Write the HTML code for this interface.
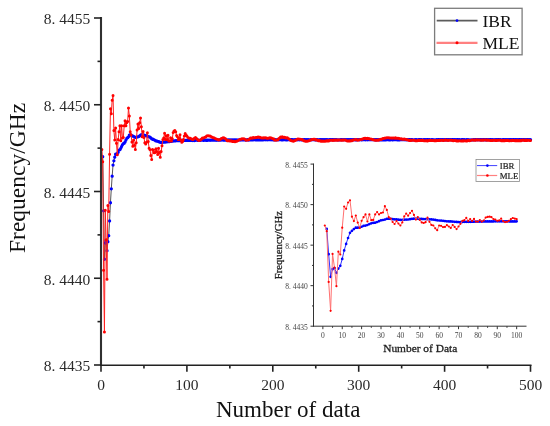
<!DOCTYPE html>
<html><head><meta charset="utf-8"><style>
html,body{margin:0;padding:0;background:#fff;width:550px;height:426px;overflow:hidden}
svg{display:block;filter:blur(0.3px)}
</style></head><body>
<svg width="550" height="426" viewBox="0 0 550 426">
<rect width="550" height="426" fill="#fff"/>
<polyline fill="none" stroke="#555" stroke-width="1" stroke-opacity="1" stroke-linejoin="round" points="102.72,156.71 103.58,210.87 104.44,259.25 105.3,242.98 106.15,240.41 107.01,250.69 107.87,241.7 108.73,235.7 109.59,220.93 110.45,202.74 111.31,188.82 112.17,176.19 113.03,165.06 113.89,160.78 114.74,157.14 115.6,154.15 116.46,154.04 117.32,153.5 118.18,152.15 119.04,150.11 119.9,149.64 120.76,148.37 121.62,146.46 122.47,144.67 123.33,143.71 124.19,143.35 125.05,141.98 125.91,140.07 126.77,138.41 127.63,137.67 128.49,136.8 129.35,135.07 130.21,134.72 131.06,135.24 131.92,135.91 132.78,136.17 133.64,136.44 134.5,136.97 135.36,137.39 136.22,137.39 137.08,137.03 137.94,136.81 138.8,136.56 139.66,135.92 140.51,135.21 141.37,134.75 142.23,134.73 143.09,134.91 143.95,135.19 144.81,135.49 145.67,135.71 146.53,135.82 147.39,136.14 148.25,136.57 149.1,136.8 149.96,137.16 150.82,137.99 151.68,138.83 152.54,139.23 153.4,139.39 154.26,139.86 155.12,140.47 155.98,140.97 156.84,141.16 157.69,141.28 158.55,141.6 159.41,142 160.27,142.32 161.13,142.44 161.99,142.4 162.85,142.3 163.71,142.16 164.57,142.06 165.43,142.02 166.28,141.97 167.14,141.85 168,141.7 168.86,141.56 169.72,141.49 170.58,141.42 171.44,141.3 172.3,141.15 173.16,140.99 174.01,140.87 174.87,140.8 175.73,140.75 176.59,140.69 177.45,140.63 178.31,140.57 179.17,140.52 180.03,140.48 180.89,140.45 181.75,140.45 182.61,140.45 183.46,140.45 184.32,140.45 185.18,140.45 186.04,140.45 186.9,140.45 187.76,140.29 188.62,140.27 189.48,140.36 190.34,140.4 191.19,140.37 192.05,140.26 192.91,140.48 193.77,140.29 194.63,140.5 195.49,140.33 196.35,140.22 197.21,140.28 198.07,140.22 198.93,140.42 199.78,140.34 200.64,140.27 201.5,140.17 202.36,140.2 203.22,140.25 204.08,140.29 204.94,140.19 205.8,140.3 206.66,140.25 207.52,140.33 208.38,140.14 209.23,140.07 210.09,140.25 210.95,140.16 211.81,140.2 212.67,140.16 213.53,140.07 214.39,140.14 215.25,140.09 216.11,140.23 216.97,140.13 217.82,140.13 218.68,140.21 219.54,139.99 220.4,140.1 221.26,140.03 222.12,139.92 222.98,140.11 223.84,139.94 224.7,140.13 225.56,139.99 226.41,140.12 227.27,140.11 228.13,139.98 228.99,140.12 229.85,139.9 230.71,139.92 231.57,139.99 232.43,139.93 233.29,139.97 234.15,140.01 235,140.05 235.86,140.02 236.72,139.85 237.58,140.06 238.44,140.06 239.3,139.94 240.16,140 241.02,139.82 241.88,139.84 242.73,139.8 243.59,139.83 244.45,139.88 245.31,140.03 246.17,139.8 247.03,139.85 247.89,139.77 248.75,140.03 249.61,139.86 250.47,139.74 251.32,139.78 252.18,139.74 253.04,139.97 253.9,139.72 254.76,139.67 255.62,139.95 256.48,139.85 257.34,139.75 258.2,139.86 259.06,139.85 259.91,139.68 260.77,139.9 261.63,139.84 262.49,139.81 263.35,139.74 264.21,139.59 265.07,139.66 265.93,139.78 266.79,139.7 267.65,139.86 268.5,139.67 269.36,139.62 270.22,139.61 271.08,139.82 271.94,139.69 272.8,139.79 273.66,139.75 274.52,139.78 275.38,139.69 276.24,139.79 277.1,139.79 277.95,139.67 278.81,139.83 279.67,139.6 280.53,139.6 281.39,139.79 282.25,139.8 283.11,139.75 283.97,139.71 284.83,139.55 285.69,139.74 286.54,139.83 287.4,139.81 288.26,139.61 289.12,139.64 289.98,139.73 290.84,139.68 291.7,139.82 292.56,139.69 293.42,139.82 294.27,139.83 295.13,139.71 295.99,139.56 296.85,139.6 297.71,139.79 298.57,139.69 299.43,139.72 300.29,139.71 301.15,139.79 302.01,139.72 302.87,139.63 303.72,139.7 304.58,139.78 305.44,139.68 306.3,139.7 307.16,139.76 308.02,139.71 308.88,139.83 309.74,139.81 310.6,139.63 311.45,139.83 312.31,139.59 313.17,139.68 314.03,139.62 314.89,139.75 315.75,139.82 316.61,139.76 317.47,139.59 318.33,139.84 319.19,139.84 320.04,139.7 320.9,139.8 321.76,139.68 322.62,139.65 323.48,139.65 324.34,139.56 325.2,139.68 326.06,139.65 326.92,139.7 327.78,139.85 328.63,139.84 329.49,139.63 330.35,139.78 331.21,139.59 332.07,139.82 332.93,139.63 333.79,139.83 334.65,139.76 335.51,139.57 336.37,139.68 337.23,139.83 338.08,139.79 338.94,139.81 339.8,139.81 340.66,139.65 341.52,139.83 342.38,139.59 343.24,139.62 344.1,139.6 344.96,139.61 345.81,139.64 346.67,139.64 347.53,139.6 348.39,139.56 349.25,139.55 350.11,139.72 350.97,139.69 351.83,139.58 352.69,139.68 353.55,139.8 354.4,139.7 355.26,139.84 356.12,139.8 356.98,139.74 357.84,139.65 358.7,139.59 359.56,139.77 360.42,139.6 361.28,139.8 362.14,139.75 363,139.62 363.85,139.69 364.71,139.68 365.57,139.84 366.43,139.72 367.29,139.84 368.15,139.66 369.01,139.67 369.87,139.7 370.73,139.71 371.58,139.63 372.44,139.68 373.3,139.56 374.16,139.63 375.02,139.72 375.88,139.76 376.74,139.82 377.6,139.66 378.46,139.61 379.32,139.76 380.18,139.82 381.03,139.75 381.89,139.81 382.75,139.73 383.61,139.82 384.47,139.82 385.33,139.84 386.19,139.78 387.05,139.58 387.91,139.68 388.76,139.83 389.62,139.77 390.48,139.78 391.34,139.58 392.2,139.81 393.06,139.75 393.92,139.61 394.78,139.66 395.64,139.67 396.5,139.65 397.36,139.88 398.21,139.71 399.07,139.8 399.93,139.78 400.79,139.62 401.65,139.68 402.51,139.69 403.37,139.61 404.23,139.69 405.09,139.81 405.94,139.7 406.8,139.75 407.66,139.65 408.52,139.67 409.38,139.89 410.24,139.75 411.1,139.91 411.96,139.7 412.82,139.9 413.68,139.8 414.53,139.78 415.39,139.66 416.25,139.78 417.11,139.84 417.97,139.9 418.83,139.64 419.69,139.78 420.55,139.72 421.41,139.74 422.27,139.89 423.12,139.86 423.98,139.67 424.84,139.85 425.7,139.73 426.56,139.76 427.42,139.82 428.28,139.77 429.14,139.66 430,139.89 430.86,139.92 431.71,139.72 432.57,139.7 433.43,139.93 434.29,139.89 435.15,139.92 436.01,139.81 436.87,139.66 437.73,139.78 438.59,139.84 439.45,139.66 440.31,139.69 441.16,139.75 442.02,139.87 442.88,139.73 443.74,139.74 444.6,139.77 445.46,139.7 446.32,139.92 447.18,139.72 448.04,139.95 448.89,139.69 449.75,139.68 450.61,139.68 451.47,139.73 452.33,139.91 453.19,139.77 454.05,139.8 454.91,139.75 455.77,139.73 456.63,139.68 457.49,139.83 458.34,139.71 459.2,139.72 460.06,139.78 460.92,139.9 461.78,139.65 462.64,139.85 463.5,139.78 464.36,139.64 465.22,139.91 466.07,139.89 466.93,139.71 467.79,139.68 468.65,139.84 469.51,139.85 470.37,139.86 471.23,139.79 472.09,139.86 472.95,139.9 473.81,139.72 474.67,139.7 475.52,139.83 476.38,139.64 477.24,139.79 478.1,139.68 478.96,139.62 479.82,139.75 480.68,139.81 481.54,139.75 482.4,139.68 483.25,139.82 484.11,139.61 484.97,139.81 485.83,139.68 486.69,139.88 487.55,139.61 488.41,139.72 489.27,139.66 490.13,139.82 490.99,139.66 491.84,139.69 492.7,139.66 493.56,139.82 494.42,139.87 495.28,139.64 496.14,139.71 497,139.87 497.86,139.7 498.72,139.87 499.58,139.59 500.44,139.7 501.29,139.84 502.15,139.87 503.01,139.67 503.87,139.85 504.73,139.58 505.59,139.68 506.45,139.67 507.31,139.57 508.17,139.67 509.02,139.6 509.88,139.63 510.74,139.81 511.6,139.69 512.46,139.7 513.32,139.84 514.18,139.67 515.04,139.57 515.9,139.8 516.76,139.57 517.62,139.57 518.47,139.63 519.33,139.82 520.19,139.64 521.05,139.74 521.91,139.77 522.77,139.63 523.63,139.78 524.49,139.74 525.35,139.56 526.2,139.69 527.06,139.84 527.92,139.63 528.78,139.7 529.64,139.6 530.5,139.77"/>
<path fill="#0000ff" d="M101.07 156.71a1.65 1.65 0 1 0 3.3 0a1.65 1.65 0 1 0 -3.3 0M101.93 210.87a1.65 1.65 0 1 0 3.3 0a1.65 1.65 0 1 0 -3.3 0M102.79 259.25a1.65 1.65 0 1 0 3.3 0a1.65 1.65 0 1 0 -3.3 0M103.64 242.98a1.65 1.65 0 1 0 3.3 0a1.65 1.65 0 1 0 -3.3 0M104.5 240.41a1.65 1.65 0 1 0 3.3 0a1.65 1.65 0 1 0 -3.3 0M105.36 250.69a1.65 1.65 0 1 0 3.3 0a1.65 1.65 0 1 0 -3.3 0M106.22 241.7a1.65 1.65 0 1 0 3.3 0a1.65 1.65 0 1 0 -3.3 0M107.08 235.7a1.65 1.65 0 1 0 3.3 0a1.65 1.65 0 1 0 -3.3 0M107.94 220.93a1.65 1.65 0 1 0 3.3 0a1.65 1.65 0 1 0 -3.3 0M108.8 202.74a1.65 1.65 0 1 0 3.3 0a1.65 1.65 0 1 0 -3.3 0M109.66 188.82a1.65 1.65 0 1 0 3.3 0a1.65 1.65 0 1 0 -3.3 0M110.52 176.19a1.65 1.65 0 1 0 3.3 0a1.65 1.65 0 1 0 -3.3 0M111.38 165.06a1.65 1.65 0 1 0 3.3 0a1.65 1.65 0 1 0 -3.3 0M112.23 160.78a1.65 1.65 0 1 0 3.3 0a1.65 1.65 0 1 0 -3.3 0M113.09 157.14a1.65 1.65 0 1 0 3.3 0a1.65 1.65 0 1 0 -3.3 0M113.95 154.15a1.65 1.65 0 1 0 3.3 0a1.65 1.65 0 1 0 -3.3 0M114.81 154.04a1.65 1.65 0 1 0 3.3 0a1.65 1.65 0 1 0 -3.3 0M115.67 153.5a1.65 1.65 0 1 0 3.3 0a1.65 1.65 0 1 0 -3.3 0M116.53 152.15a1.65 1.65 0 1 0 3.3 0a1.65 1.65 0 1 0 -3.3 0M117.39 150.11a1.65 1.65 0 1 0 3.3 0a1.65 1.65 0 1 0 -3.3 0M118.25 149.64a1.65 1.65 0 1 0 3.3 0a1.65 1.65 0 1 0 -3.3 0M119.11 148.37a1.65 1.65 0 1 0 3.3 0a1.65 1.65 0 1 0 -3.3 0M119.97 146.46a1.65 1.65 0 1 0 3.3 0a1.65 1.65 0 1 0 -3.3 0M120.82 144.67a1.65 1.65 0 1 0 3.3 0a1.65 1.65 0 1 0 -3.3 0M121.68 143.71a1.65 1.65 0 1 0 3.3 0a1.65 1.65 0 1 0 -3.3 0M122.54 143.35a1.65 1.65 0 1 0 3.3 0a1.65 1.65 0 1 0 -3.3 0M123.4 141.98a1.65 1.65 0 1 0 3.3 0a1.65 1.65 0 1 0 -3.3 0M124.26 140.07a1.65 1.65 0 1 0 3.3 0a1.65 1.65 0 1 0 -3.3 0M125.12 138.41a1.65 1.65 0 1 0 3.3 0a1.65 1.65 0 1 0 -3.3 0M125.98 137.67a1.65 1.65 0 1 0 3.3 0a1.65 1.65 0 1 0 -3.3 0M126.84 136.8a1.65 1.65 0 1 0 3.3 0a1.65 1.65 0 1 0 -3.3 0M127.7 135.07a1.65 1.65 0 1 0 3.3 0a1.65 1.65 0 1 0 -3.3 0M128.56 134.72a1.65 1.65 0 1 0 3.3 0a1.65 1.65 0 1 0 -3.3 0M129.41 135.24a1.65 1.65 0 1 0 3.3 0a1.65 1.65 0 1 0 -3.3 0M130.27 135.91a1.65 1.65 0 1 0 3.3 0a1.65 1.65 0 1 0 -3.3 0M131.13 136.17a1.65 1.65 0 1 0 3.3 0a1.65 1.65 0 1 0 -3.3 0M131.99 136.44a1.65 1.65 0 1 0 3.3 0a1.65 1.65 0 1 0 -3.3 0M132.85 136.97a1.65 1.65 0 1 0 3.3 0a1.65 1.65 0 1 0 -3.3 0M133.71 137.39a1.65 1.65 0 1 0 3.3 0a1.65 1.65 0 1 0 -3.3 0M134.57 137.39a1.65 1.65 0 1 0 3.3 0a1.65 1.65 0 1 0 -3.3 0M135.43 137.03a1.65 1.65 0 1 0 3.3 0a1.65 1.65 0 1 0 -3.3 0M136.29 136.81a1.65 1.65 0 1 0 3.3 0a1.65 1.65 0 1 0 -3.3 0M137.15 136.56a1.65 1.65 0 1 0 3.3 0a1.65 1.65 0 1 0 -3.3 0M138 135.92a1.65 1.65 0 1 0 3.3 0a1.65 1.65 0 1 0 -3.3 0M138.86 135.21a1.65 1.65 0 1 0 3.3 0a1.65 1.65 0 1 0 -3.3 0M139.72 134.75a1.65 1.65 0 1 0 3.3 0a1.65 1.65 0 1 0 -3.3 0M140.58 134.73a1.65 1.65 0 1 0 3.3 0a1.65 1.65 0 1 0 -3.3 0M141.44 134.91a1.65 1.65 0 1 0 3.3 0a1.65 1.65 0 1 0 -3.3 0M142.3 135.19a1.65 1.65 0 1 0 3.3 0a1.65 1.65 0 1 0 -3.3 0M143.16 135.49a1.65 1.65 0 1 0 3.3 0a1.65 1.65 0 1 0 -3.3 0M144.02 135.71a1.65 1.65 0 1 0 3.3 0a1.65 1.65 0 1 0 -3.3 0M144.88 135.82a1.65 1.65 0 1 0 3.3 0a1.65 1.65 0 1 0 -3.3 0M145.74 136.14a1.65 1.65 0 1 0 3.3 0a1.65 1.65 0 1 0 -3.3 0M146.59 136.57a1.65 1.65 0 1 0 3.3 0a1.65 1.65 0 1 0 -3.3 0M147.45 136.8a1.65 1.65 0 1 0 3.3 0a1.65 1.65 0 1 0 -3.3 0M148.31 137.16a1.65 1.65 0 1 0 3.3 0a1.65 1.65 0 1 0 -3.3 0M149.17 137.99a1.65 1.65 0 1 0 3.3 0a1.65 1.65 0 1 0 -3.3 0M150.03 138.83a1.65 1.65 0 1 0 3.3 0a1.65 1.65 0 1 0 -3.3 0M150.89 139.23a1.65 1.65 0 1 0 3.3 0a1.65 1.65 0 1 0 -3.3 0M151.75 139.39a1.65 1.65 0 1 0 3.3 0a1.65 1.65 0 1 0 -3.3 0M152.61 139.86a1.65 1.65 0 1 0 3.3 0a1.65 1.65 0 1 0 -3.3 0M153.47 140.47a1.65 1.65 0 1 0 3.3 0a1.65 1.65 0 1 0 -3.3 0M154.33 140.97a1.65 1.65 0 1 0 3.3 0a1.65 1.65 0 1 0 -3.3 0M155.19 141.16a1.65 1.65 0 1 0 3.3 0a1.65 1.65 0 1 0 -3.3 0M156.04 141.28a1.65 1.65 0 1 0 3.3 0a1.65 1.65 0 1 0 -3.3 0M156.9 141.6a1.65 1.65 0 1 0 3.3 0a1.65 1.65 0 1 0 -3.3 0M157.76 142a1.65 1.65 0 1 0 3.3 0a1.65 1.65 0 1 0 -3.3 0M158.62 142.32a1.65 1.65 0 1 0 3.3 0a1.65 1.65 0 1 0 -3.3 0M159.48 142.44a1.65 1.65 0 1 0 3.3 0a1.65 1.65 0 1 0 -3.3 0M160.34 142.4a1.65 1.65 0 1 0 3.3 0a1.65 1.65 0 1 0 -3.3 0M161.2 142.3a1.65 1.65 0 1 0 3.3 0a1.65 1.65 0 1 0 -3.3 0M162.06 142.16a1.65 1.65 0 1 0 3.3 0a1.65 1.65 0 1 0 -3.3 0M162.92 142.06a1.65 1.65 0 1 0 3.3 0a1.65 1.65 0 1 0 -3.3 0M163.78 142.02a1.65 1.65 0 1 0 3.3 0a1.65 1.65 0 1 0 -3.3 0M164.63 141.97a1.65 1.65 0 1 0 3.3 0a1.65 1.65 0 1 0 -3.3 0M165.49 141.85a1.65 1.65 0 1 0 3.3 0a1.65 1.65 0 1 0 -3.3 0M166.35 141.7a1.65 1.65 0 1 0 3.3 0a1.65 1.65 0 1 0 -3.3 0M167.21 141.56a1.65 1.65 0 1 0 3.3 0a1.65 1.65 0 1 0 -3.3 0M168.07 141.49a1.65 1.65 0 1 0 3.3 0a1.65 1.65 0 1 0 -3.3 0M168.93 141.42a1.65 1.65 0 1 0 3.3 0a1.65 1.65 0 1 0 -3.3 0M169.79 141.3a1.65 1.65 0 1 0 3.3 0a1.65 1.65 0 1 0 -3.3 0M170.65 141.15a1.65 1.65 0 1 0 3.3 0a1.65 1.65 0 1 0 -3.3 0M171.51 140.99a1.65 1.65 0 1 0 3.3 0a1.65 1.65 0 1 0 -3.3 0M172.36 140.87a1.65 1.65 0 1 0 3.3 0a1.65 1.65 0 1 0 -3.3 0M173.22 140.8a1.65 1.65 0 1 0 3.3 0a1.65 1.65 0 1 0 -3.3 0M174.08 140.75a1.65 1.65 0 1 0 3.3 0a1.65 1.65 0 1 0 -3.3 0M174.94 140.69a1.65 1.65 0 1 0 3.3 0a1.65 1.65 0 1 0 -3.3 0M175.8 140.63a1.65 1.65 0 1 0 3.3 0a1.65 1.65 0 1 0 -3.3 0M176.66 140.57a1.65 1.65 0 1 0 3.3 0a1.65 1.65 0 1 0 -3.3 0M177.52 140.52a1.65 1.65 0 1 0 3.3 0a1.65 1.65 0 1 0 -3.3 0M178.38 140.48a1.65 1.65 0 1 0 3.3 0a1.65 1.65 0 1 0 -3.3 0M179.24 140.45a1.65 1.65 0 1 0 3.3 0a1.65 1.65 0 1 0 -3.3 0M180.1 140.45a1.65 1.65 0 1 0 3.3 0a1.65 1.65 0 1 0 -3.3 0M180.96 140.45a1.65 1.65 0 1 0 3.3 0a1.65 1.65 0 1 0 -3.3 0M181.81 140.45a1.65 1.65 0 1 0 3.3 0a1.65 1.65 0 1 0 -3.3 0M182.67 140.45a1.65 1.65 0 1 0 3.3 0a1.65 1.65 0 1 0 -3.3 0M183.53 140.45a1.65 1.65 0 1 0 3.3 0a1.65 1.65 0 1 0 -3.3 0M184.39 140.45a1.65 1.65 0 1 0 3.3 0a1.65 1.65 0 1 0 -3.3 0M185.25 140.45a1.65 1.65 0 1 0 3.3 0a1.65 1.65 0 1 0 -3.3 0M186.11 140.29a1.65 1.65 0 1 0 3.3 0a1.65 1.65 0 1 0 -3.3 0M186.97 140.27a1.65 1.65 0 1 0 3.3 0a1.65 1.65 0 1 0 -3.3 0M187.83 140.36a1.65 1.65 0 1 0 3.3 0a1.65 1.65 0 1 0 -3.3 0M188.69 140.4a1.65 1.65 0 1 0 3.3 0a1.65 1.65 0 1 0 -3.3 0M189.54 140.37a1.65 1.65 0 1 0 3.3 0a1.65 1.65 0 1 0 -3.3 0M190.4 140.26a1.65 1.65 0 1 0 3.3 0a1.65 1.65 0 1 0 -3.3 0M191.26 140.48a1.65 1.65 0 1 0 3.3 0a1.65 1.65 0 1 0 -3.3 0M192.12 140.29a1.65 1.65 0 1 0 3.3 0a1.65 1.65 0 1 0 -3.3 0M192.98 140.5a1.65 1.65 0 1 0 3.3 0a1.65 1.65 0 1 0 -3.3 0M193.84 140.33a1.65 1.65 0 1 0 3.3 0a1.65 1.65 0 1 0 -3.3 0M194.7 140.22a1.65 1.65 0 1 0 3.3 0a1.65 1.65 0 1 0 -3.3 0M195.56 140.28a1.65 1.65 0 1 0 3.3 0a1.65 1.65 0 1 0 -3.3 0M196.42 140.22a1.65 1.65 0 1 0 3.3 0a1.65 1.65 0 1 0 -3.3 0M197.28 140.42a1.65 1.65 0 1 0 3.3 0a1.65 1.65 0 1 0 -3.3 0M198.13 140.34a1.65 1.65 0 1 0 3.3 0a1.65 1.65 0 1 0 -3.3 0M198.99 140.27a1.65 1.65 0 1 0 3.3 0a1.65 1.65 0 1 0 -3.3 0M199.85 140.17a1.65 1.65 0 1 0 3.3 0a1.65 1.65 0 1 0 -3.3 0M200.71 140.2a1.65 1.65 0 1 0 3.3 0a1.65 1.65 0 1 0 -3.3 0M201.57 140.25a1.65 1.65 0 1 0 3.3 0a1.65 1.65 0 1 0 -3.3 0M202.43 140.29a1.65 1.65 0 1 0 3.3 0a1.65 1.65 0 1 0 -3.3 0M203.29 140.19a1.65 1.65 0 1 0 3.3 0a1.65 1.65 0 1 0 -3.3 0M204.15 140.3a1.65 1.65 0 1 0 3.3 0a1.65 1.65 0 1 0 -3.3 0M205.01 140.25a1.65 1.65 0 1 0 3.3 0a1.65 1.65 0 1 0 -3.3 0M205.87 140.33a1.65 1.65 0 1 0 3.3 0a1.65 1.65 0 1 0 -3.3 0M206.72 140.14a1.65 1.65 0 1 0 3.3 0a1.65 1.65 0 1 0 -3.3 0M207.58 140.07a1.65 1.65 0 1 0 3.3 0a1.65 1.65 0 1 0 -3.3 0M208.44 140.25a1.65 1.65 0 1 0 3.3 0a1.65 1.65 0 1 0 -3.3 0M209.3 140.16a1.65 1.65 0 1 0 3.3 0a1.65 1.65 0 1 0 -3.3 0M210.16 140.2a1.65 1.65 0 1 0 3.3 0a1.65 1.65 0 1 0 -3.3 0M211.02 140.16a1.65 1.65 0 1 0 3.3 0a1.65 1.65 0 1 0 -3.3 0M211.88 140.07a1.65 1.65 0 1 0 3.3 0a1.65 1.65 0 1 0 -3.3 0M212.74 140.14a1.65 1.65 0 1 0 3.3 0a1.65 1.65 0 1 0 -3.3 0M213.6 140.09a1.65 1.65 0 1 0 3.3 0a1.65 1.65 0 1 0 -3.3 0M214.46 140.23a1.65 1.65 0 1 0 3.3 0a1.65 1.65 0 1 0 -3.3 0M215.31 140.13a1.65 1.65 0 1 0 3.3 0a1.65 1.65 0 1 0 -3.3 0M216.17 140.13a1.65 1.65 0 1 0 3.3 0a1.65 1.65 0 1 0 -3.3 0M217.03 140.21a1.65 1.65 0 1 0 3.3 0a1.65 1.65 0 1 0 -3.3 0M217.89 139.99a1.65 1.65 0 1 0 3.3 0a1.65 1.65 0 1 0 -3.3 0M218.75 140.1a1.65 1.65 0 1 0 3.3 0a1.65 1.65 0 1 0 -3.3 0M219.61 140.03a1.65 1.65 0 1 0 3.3 0a1.65 1.65 0 1 0 -3.3 0M220.47 139.92a1.65 1.65 0 1 0 3.3 0a1.65 1.65 0 1 0 -3.3 0M221.33 140.11a1.65 1.65 0 1 0 3.3 0a1.65 1.65 0 1 0 -3.3 0M222.19 139.94a1.65 1.65 0 1 0 3.3 0a1.65 1.65 0 1 0 -3.3 0M223.05 140.13a1.65 1.65 0 1 0 3.3 0a1.65 1.65 0 1 0 -3.3 0M223.91 139.99a1.65 1.65 0 1 0 3.3 0a1.65 1.65 0 1 0 -3.3 0M224.76 140.12a1.65 1.65 0 1 0 3.3 0a1.65 1.65 0 1 0 -3.3 0M225.62 140.11a1.65 1.65 0 1 0 3.3 0a1.65 1.65 0 1 0 -3.3 0M226.48 139.98a1.65 1.65 0 1 0 3.3 0a1.65 1.65 0 1 0 -3.3 0M227.34 140.12a1.65 1.65 0 1 0 3.3 0a1.65 1.65 0 1 0 -3.3 0M228.2 139.9a1.65 1.65 0 1 0 3.3 0a1.65 1.65 0 1 0 -3.3 0M229.06 139.92a1.65 1.65 0 1 0 3.3 0a1.65 1.65 0 1 0 -3.3 0M229.92 139.99a1.65 1.65 0 1 0 3.3 0a1.65 1.65 0 1 0 -3.3 0M230.78 139.93a1.65 1.65 0 1 0 3.3 0a1.65 1.65 0 1 0 -3.3 0M231.64 139.97a1.65 1.65 0 1 0 3.3 0a1.65 1.65 0 1 0 -3.3 0M232.5 140.01a1.65 1.65 0 1 0 3.3 0a1.65 1.65 0 1 0 -3.3 0M233.35 140.05a1.65 1.65 0 1 0 3.3 0a1.65 1.65 0 1 0 -3.3 0M234.21 140.02a1.65 1.65 0 1 0 3.3 0a1.65 1.65 0 1 0 -3.3 0M235.07 139.85a1.65 1.65 0 1 0 3.3 0a1.65 1.65 0 1 0 -3.3 0M235.93 140.06a1.65 1.65 0 1 0 3.3 0a1.65 1.65 0 1 0 -3.3 0M236.79 140.06a1.65 1.65 0 1 0 3.3 0a1.65 1.65 0 1 0 -3.3 0M237.65 139.94a1.65 1.65 0 1 0 3.3 0a1.65 1.65 0 1 0 -3.3 0M238.51 140a1.65 1.65 0 1 0 3.3 0a1.65 1.65 0 1 0 -3.3 0M239.37 139.82a1.65 1.65 0 1 0 3.3 0a1.65 1.65 0 1 0 -3.3 0M240.23 139.84a1.65 1.65 0 1 0 3.3 0a1.65 1.65 0 1 0 -3.3 0M241.08 139.8a1.65 1.65 0 1 0 3.3 0a1.65 1.65 0 1 0 -3.3 0M241.94 139.83a1.65 1.65 0 1 0 3.3 0a1.65 1.65 0 1 0 -3.3 0M242.8 139.88a1.65 1.65 0 1 0 3.3 0a1.65 1.65 0 1 0 -3.3 0M243.66 140.03a1.65 1.65 0 1 0 3.3 0a1.65 1.65 0 1 0 -3.3 0M244.52 139.8a1.65 1.65 0 1 0 3.3 0a1.65 1.65 0 1 0 -3.3 0M245.38 139.85a1.65 1.65 0 1 0 3.3 0a1.65 1.65 0 1 0 -3.3 0M246.24 139.77a1.65 1.65 0 1 0 3.3 0a1.65 1.65 0 1 0 -3.3 0M247.1 140.03a1.65 1.65 0 1 0 3.3 0a1.65 1.65 0 1 0 -3.3 0M247.96 139.86a1.65 1.65 0 1 0 3.3 0a1.65 1.65 0 1 0 -3.3 0M248.82 139.74a1.65 1.65 0 1 0 3.3 0a1.65 1.65 0 1 0 -3.3 0M249.67 139.78a1.65 1.65 0 1 0 3.3 0a1.65 1.65 0 1 0 -3.3 0M250.53 139.74a1.65 1.65 0 1 0 3.3 0a1.65 1.65 0 1 0 -3.3 0M251.39 139.97a1.65 1.65 0 1 0 3.3 0a1.65 1.65 0 1 0 -3.3 0M252.25 139.72a1.65 1.65 0 1 0 3.3 0a1.65 1.65 0 1 0 -3.3 0M253.11 139.67a1.65 1.65 0 1 0 3.3 0a1.65 1.65 0 1 0 -3.3 0M253.97 139.95a1.65 1.65 0 1 0 3.3 0a1.65 1.65 0 1 0 -3.3 0M254.83 139.85a1.65 1.65 0 1 0 3.3 0a1.65 1.65 0 1 0 -3.3 0M255.69 139.75a1.65 1.65 0 1 0 3.3 0a1.65 1.65 0 1 0 -3.3 0M256.55 139.86a1.65 1.65 0 1 0 3.3 0a1.65 1.65 0 1 0 -3.3 0M257.41 139.85a1.65 1.65 0 1 0 3.3 0a1.65 1.65 0 1 0 -3.3 0M258.26 139.68a1.65 1.65 0 1 0 3.3 0a1.65 1.65 0 1 0 -3.3 0M259.12 139.9a1.65 1.65 0 1 0 3.3 0a1.65 1.65 0 1 0 -3.3 0M259.98 139.84a1.65 1.65 0 1 0 3.3 0a1.65 1.65 0 1 0 -3.3 0M260.84 139.81a1.65 1.65 0 1 0 3.3 0a1.65 1.65 0 1 0 -3.3 0M261.7 139.74a1.65 1.65 0 1 0 3.3 0a1.65 1.65 0 1 0 -3.3 0M262.56 139.59a1.65 1.65 0 1 0 3.3 0a1.65 1.65 0 1 0 -3.3 0M263.42 139.66a1.65 1.65 0 1 0 3.3 0a1.65 1.65 0 1 0 -3.3 0M264.28 139.78a1.65 1.65 0 1 0 3.3 0a1.65 1.65 0 1 0 -3.3 0M265.14 139.7a1.65 1.65 0 1 0 3.3 0a1.65 1.65 0 1 0 -3.3 0M266 139.86a1.65 1.65 0 1 0 3.3 0a1.65 1.65 0 1 0 -3.3 0M266.86 139.67a1.65 1.65 0 1 0 3.3 0a1.65 1.65 0 1 0 -3.3 0M267.71 139.62a1.65 1.65 0 1 0 3.3 0a1.65 1.65 0 1 0 -3.3 0M268.57 139.61a1.65 1.65 0 1 0 3.3 0a1.65 1.65 0 1 0 -3.3 0M269.43 139.82a1.65 1.65 0 1 0 3.3 0a1.65 1.65 0 1 0 -3.3 0M270.29 139.69a1.65 1.65 0 1 0 3.3 0a1.65 1.65 0 1 0 -3.3 0M271.15 139.79a1.65 1.65 0 1 0 3.3 0a1.65 1.65 0 1 0 -3.3 0M272.01 139.75a1.65 1.65 0 1 0 3.3 0a1.65 1.65 0 1 0 -3.3 0M272.87 139.78a1.65 1.65 0 1 0 3.3 0a1.65 1.65 0 1 0 -3.3 0M273.73 139.69a1.65 1.65 0 1 0 3.3 0a1.65 1.65 0 1 0 -3.3 0M274.59 139.79a1.65 1.65 0 1 0 3.3 0a1.65 1.65 0 1 0 -3.3 0M275.45 139.79a1.65 1.65 0 1 0 3.3 0a1.65 1.65 0 1 0 -3.3 0M276.3 139.67a1.65 1.65 0 1 0 3.3 0a1.65 1.65 0 1 0 -3.3 0M277.16 139.83a1.65 1.65 0 1 0 3.3 0a1.65 1.65 0 1 0 -3.3 0M278.02 139.6a1.65 1.65 0 1 0 3.3 0a1.65 1.65 0 1 0 -3.3 0M278.88 139.6a1.65 1.65 0 1 0 3.3 0a1.65 1.65 0 1 0 -3.3 0M279.74 139.79a1.65 1.65 0 1 0 3.3 0a1.65 1.65 0 1 0 -3.3 0M280.6 139.8a1.65 1.65 0 1 0 3.3 0a1.65 1.65 0 1 0 -3.3 0M281.46 139.75a1.65 1.65 0 1 0 3.3 0a1.65 1.65 0 1 0 -3.3 0M282.32 139.71a1.65 1.65 0 1 0 3.3 0a1.65 1.65 0 1 0 -3.3 0M283.18 139.55a1.65 1.65 0 1 0 3.3 0a1.65 1.65 0 1 0 -3.3 0M284.04 139.74a1.65 1.65 0 1 0 3.3 0a1.65 1.65 0 1 0 -3.3 0M284.89 139.83a1.65 1.65 0 1 0 3.3 0a1.65 1.65 0 1 0 -3.3 0M285.75 139.81a1.65 1.65 0 1 0 3.3 0a1.65 1.65 0 1 0 -3.3 0M286.61 139.61a1.65 1.65 0 1 0 3.3 0a1.65 1.65 0 1 0 -3.3 0M287.47 139.64a1.65 1.65 0 1 0 3.3 0a1.65 1.65 0 1 0 -3.3 0M288.33 139.73a1.65 1.65 0 1 0 3.3 0a1.65 1.65 0 1 0 -3.3 0M289.19 139.68a1.65 1.65 0 1 0 3.3 0a1.65 1.65 0 1 0 -3.3 0M290.05 139.82a1.65 1.65 0 1 0 3.3 0a1.65 1.65 0 1 0 -3.3 0M290.91 139.69a1.65 1.65 0 1 0 3.3 0a1.65 1.65 0 1 0 -3.3 0M291.77 139.82a1.65 1.65 0 1 0 3.3 0a1.65 1.65 0 1 0 -3.3 0M292.62 139.83a1.65 1.65 0 1 0 3.3 0a1.65 1.65 0 1 0 -3.3 0M293.48 139.71a1.65 1.65 0 1 0 3.3 0a1.65 1.65 0 1 0 -3.3 0M294.34 139.56a1.65 1.65 0 1 0 3.3 0a1.65 1.65 0 1 0 -3.3 0M295.2 139.6a1.65 1.65 0 1 0 3.3 0a1.65 1.65 0 1 0 -3.3 0M296.06 139.79a1.65 1.65 0 1 0 3.3 0a1.65 1.65 0 1 0 -3.3 0M296.92 139.69a1.65 1.65 0 1 0 3.3 0a1.65 1.65 0 1 0 -3.3 0M297.78 139.72a1.65 1.65 0 1 0 3.3 0a1.65 1.65 0 1 0 -3.3 0M298.64 139.71a1.65 1.65 0 1 0 3.3 0a1.65 1.65 0 1 0 -3.3 0M299.5 139.79a1.65 1.65 0 1 0 3.3 0a1.65 1.65 0 1 0 -3.3 0M300.36 139.72a1.65 1.65 0 1 0 3.3 0a1.65 1.65 0 1 0 -3.3 0M301.22 139.63a1.65 1.65 0 1 0 3.3 0a1.65 1.65 0 1 0 -3.3 0M302.07 139.7a1.65 1.65 0 1 0 3.3 0a1.65 1.65 0 1 0 -3.3 0M302.93 139.78a1.65 1.65 0 1 0 3.3 0a1.65 1.65 0 1 0 -3.3 0M303.79 139.68a1.65 1.65 0 1 0 3.3 0a1.65 1.65 0 1 0 -3.3 0M304.65 139.7a1.65 1.65 0 1 0 3.3 0a1.65 1.65 0 1 0 -3.3 0M305.51 139.76a1.65 1.65 0 1 0 3.3 0a1.65 1.65 0 1 0 -3.3 0M306.37 139.71a1.65 1.65 0 1 0 3.3 0a1.65 1.65 0 1 0 -3.3 0M307.23 139.83a1.65 1.65 0 1 0 3.3 0a1.65 1.65 0 1 0 -3.3 0M308.09 139.81a1.65 1.65 0 1 0 3.3 0a1.65 1.65 0 1 0 -3.3 0M308.95 139.63a1.65 1.65 0 1 0 3.3 0a1.65 1.65 0 1 0 -3.3 0M309.81 139.83a1.65 1.65 0 1 0 3.3 0a1.65 1.65 0 1 0 -3.3 0M310.66 139.59a1.65 1.65 0 1 0 3.3 0a1.65 1.65 0 1 0 -3.3 0M311.52 139.68a1.65 1.65 0 1 0 3.3 0a1.65 1.65 0 1 0 -3.3 0M312.38 139.62a1.65 1.65 0 1 0 3.3 0a1.65 1.65 0 1 0 -3.3 0M313.24 139.75a1.65 1.65 0 1 0 3.3 0a1.65 1.65 0 1 0 -3.3 0M314.1 139.82a1.65 1.65 0 1 0 3.3 0a1.65 1.65 0 1 0 -3.3 0M314.96 139.76a1.65 1.65 0 1 0 3.3 0a1.65 1.65 0 1 0 -3.3 0M315.82 139.59a1.65 1.65 0 1 0 3.3 0a1.65 1.65 0 1 0 -3.3 0M316.68 139.84a1.65 1.65 0 1 0 3.3 0a1.65 1.65 0 1 0 -3.3 0M317.54 139.84a1.65 1.65 0 1 0 3.3 0a1.65 1.65 0 1 0 -3.3 0M318.39 139.7a1.65 1.65 0 1 0 3.3 0a1.65 1.65 0 1 0 -3.3 0M319.25 139.8a1.65 1.65 0 1 0 3.3 0a1.65 1.65 0 1 0 -3.3 0M320.11 139.68a1.65 1.65 0 1 0 3.3 0a1.65 1.65 0 1 0 -3.3 0M320.97 139.65a1.65 1.65 0 1 0 3.3 0a1.65 1.65 0 1 0 -3.3 0M321.83 139.65a1.65 1.65 0 1 0 3.3 0a1.65 1.65 0 1 0 -3.3 0M322.69 139.56a1.65 1.65 0 1 0 3.3 0a1.65 1.65 0 1 0 -3.3 0M323.55 139.68a1.65 1.65 0 1 0 3.3 0a1.65 1.65 0 1 0 -3.3 0M324.41 139.65a1.65 1.65 0 1 0 3.3 0a1.65 1.65 0 1 0 -3.3 0M325.27 139.7a1.65 1.65 0 1 0 3.3 0a1.65 1.65 0 1 0 -3.3 0M326.13 139.85a1.65 1.65 0 1 0 3.3 0a1.65 1.65 0 1 0 -3.3 0M326.99 139.84a1.65 1.65 0 1 0 3.3 0a1.65 1.65 0 1 0 -3.3 0M327.84 139.63a1.65 1.65 0 1 0 3.3 0a1.65 1.65 0 1 0 -3.3 0M328.7 139.78a1.65 1.65 0 1 0 3.3 0a1.65 1.65 0 1 0 -3.3 0M329.56 139.59a1.65 1.65 0 1 0 3.3 0a1.65 1.65 0 1 0 -3.3 0M330.42 139.82a1.65 1.65 0 1 0 3.3 0a1.65 1.65 0 1 0 -3.3 0M331.28 139.63a1.65 1.65 0 1 0 3.3 0a1.65 1.65 0 1 0 -3.3 0M332.14 139.83a1.65 1.65 0 1 0 3.3 0a1.65 1.65 0 1 0 -3.3 0M333 139.76a1.65 1.65 0 1 0 3.3 0a1.65 1.65 0 1 0 -3.3 0M333.86 139.57a1.65 1.65 0 1 0 3.3 0a1.65 1.65 0 1 0 -3.3 0M334.72 139.68a1.65 1.65 0 1 0 3.3 0a1.65 1.65 0 1 0 -3.3 0M335.58 139.83a1.65 1.65 0 1 0 3.3 0a1.65 1.65 0 1 0 -3.3 0M336.43 139.79a1.65 1.65 0 1 0 3.3 0a1.65 1.65 0 1 0 -3.3 0M337.29 139.81a1.65 1.65 0 1 0 3.3 0a1.65 1.65 0 1 0 -3.3 0M338.15 139.81a1.65 1.65 0 1 0 3.3 0a1.65 1.65 0 1 0 -3.3 0M339.01 139.65a1.65 1.65 0 1 0 3.3 0a1.65 1.65 0 1 0 -3.3 0M339.87 139.83a1.65 1.65 0 1 0 3.3 0a1.65 1.65 0 1 0 -3.3 0M340.73 139.59a1.65 1.65 0 1 0 3.3 0a1.65 1.65 0 1 0 -3.3 0M341.59 139.62a1.65 1.65 0 1 0 3.3 0a1.65 1.65 0 1 0 -3.3 0M342.45 139.6a1.65 1.65 0 1 0 3.3 0a1.65 1.65 0 1 0 -3.3 0M343.31 139.61a1.65 1.65 0 1 0 3.3 0a1.65 1.65 0 1 0 -3.3 0M344.17 139.64a1.65 1.65 0 1 0 3.3 0a1.65 1.65 0 1 0 -3.3 0M345.02 139.64a1.65 1.65 0 1 0 3.3 0a1.65 1.65 0 1 0 -3.3 0M345.88 139.6a1.65 1.65 0 1 0 3.3 0a1.65 1.65 0 1 0 -3.3 0M346.74 139.56a1.65 1.65 0 1 0 3.3 0a1.65 1.65 0 1 0 -3.3 0M347.6 139.55a1.65 1.65 0 1 0 3.3 0a1.65 1.65 0 1 0 -3.3 0M348.46 139.72a1.65 1.65 0 1 0 3.3 0a1.65 1.65 0 1 0 -3.3 0M349.32 139.69a1.65 1.65 0 1 0 3.3 0a1.65 1.65 0 1 0 -3.3 0M350.18 139.58a1.65 1.65 0 1 0 3.3 0a1.65 1.65 0 1 0 -3.3 0M351.04 139.68a1.65 1.65 0 1 0 3.3 0a1.65 1.65 0 1 0 -3.3 0M351.9 139.8a1.65 1.65 0 1 0 3.3 0a1.65 1.65 0 1 0 -3.3 0M352.75 139.7a1.65 1.65 0 1 0 3.3 0a1.65 1.65 0 1 0 -3.3 0M353.61 139.84a1.65 1.65 0 1 0 3.3 0a1.65 1.65 0 1 0 -3.3 0M354.47 139.8a1.65 1.65 0 1 0 3.3 0a1.65 1.65 0 1 0 -3.3 0M355.33 139.74a1.65 1.65 0 1 0 3.3 0a1.65 1.65 0 1 0 -3.3 0M356.19 139.65a1.65 1.65 0 1 0 3.3 0a1.65 1.65 0 1 0 -3.3 0M357.05 139.59a1.65 1.65 0 1 0 3.3 0a1.65 1.65 0 1 0 -3.3 0M357.91 139.77a1.65 1.65 0 1 0 3.3 0a1.65 1.65 0 1 0 -3.3 0M358.77 139.6a1.65 1.65 0 1 0 3.3 0a1.65 1.65 0 1 0 -3.3 0M359.63 139.8a1.65 1.65 0 1 0 3.3 0a1.65 1.65 0 1 0 -3.3 0M360.49 139.75a1.65 1.65 0 1 0 3.3 0a1.65 1.65 0 1 0 -3.3 0M361.35 139.62a1.65 1.65 0 1 0 3.3 0a1.65 1.65 0 1 0 -3.3 0M362.2 139.69a1.65 1.65 0 1 0 3.3 0a1.65 1.65 0 1 0 -3.3 0M363.06 139.68a1.65 1.65 0 1 0 3.3 0a1.65 1.65 0 1 0 -3.3 0M363.92 139.84a1.65 1.65 0 1 0 3.3 0a1.65 1.65 0 1 0 -3.3 0M364.78 139.72a1.65 1.65 0 1 0 3.3 0a1.65 1.65 0 1 0 -3.3 0M365.64 139.84a1.65 1.65 0 1 0 3.3 0a1.65 1.65 0 1 0 -3.3 0M366.5 139.66a1.65 1.65 0 1 0 3.3 0a1.65 1.65 0 1 0 -3.3 0M367.36 139.67a1.65 1.65 0 1 0 3.3 0a1.65 1.65 0 1 0 -3.3 0M368.22 139.7a1.65 1.65 0 1 0 3.3 0a1.65 1.65 0 1 0 -3.3 0M369.08 139.71a1.65 1.65 0 1 0 3.3 0a1.65 1.65 0 1 0 -3.3 0M369.94 139.63a1.65 1.65 0 1 0 3.3 0a1.65 1.65 0 1 0 -3.3 0M370.79 139.68a1.65 1.65 0 1 0 3.3 0a1.65 1.65 0 1 0 -3.3 0M371.65 139.56a1.65 1.65 0 1 0 3.3 0a1.65 1.65 0 1 0 -3.3 0M372.51 139.63a1.65 1.65 0 1 0 3.3 0a1.65 1.65 0 1 0 -3.3 0M373.37 139.72a1.65 1.65 0 1 0 3.3 0a1.65 1.65 0 1 0 -3.3 0M374.23 139.76a1.65 1.65 0 1 0 3.3 0a1.65 1.65 0 1 0 -3.3 0M375.09 139.82a1.65 1.65 0 1 0 3.3 0a1.65 1.65 0 1 0 -3.3 0M375.95 139.66a1.65 1.65 0 1 0 3.3 0a1.65 1.65 0 1 0 -3.3 0M376.81 139.61a1.65 1.65 0 1 0 3.3 0a1.65 1.65 0 1 0 -3.3 0M377.67 139.76a1.65 1.65 0 1 0 3.3 0a1.65 1.65 0 1 0 -3.3 0M378.53 139.82a1.65 1.65 0 1 0 3.3 0a1.65 1.65 0 1 0 -3.3 0M379.38 139.75a1.65 1.65 0 1 0 3.3 0a1.65 1.65 0 1 0 -3.3 0M380.24 139.81a1.65 1.65 0 1 0 3.3 0a1.65 1.65 0 1 0 -3.3 0M381.1 139.73a1.65 1.65 0 1 0 3.3 0a1.65 1.65 0 1 0 -3.3 0M381.96 139.82a1.65 1.65 0 1 0 3.3 0a1.65 1.65 0 1 0 -3.3 0M382.82 139.82a1.65 1.65 0 1 0 3.3 0a1.65 1.65 0 1 0 -3.3 0M383.68 139.84a1.65 1.65 0 1 0 3.3 0a1.65 1.65 0 1 0 -3.3 0M384.54 139.78a1.65 1.65 0 1 0 3.3 0a1.65 1.65 0 1 0 -3.3 0M385.4 139.58a1.65 1.65 0 1 0 3.3 0a1.65 1.65 0 1 0 -3.3 0M386.26 139.68a1.65 1.65 0 1 0 3.3 0a1.65 1.65 0 1 0 -3.3 0M387.12 139.83a1.65 1.65 0 1 0 3.3 0a1.65 1.65 0 1 0 -3.3 0M387.97 139.77a1.65 1.65 0 1 0 3.3 0a1.65 1.65 0 1 0 -3.3 0M388.83 139.78a1.65 1.65 0 1 0 3.3 0a1.65 1.65 0 1 0 -3.3 0M389.69 139.58a1.65 1.65 0 1 0 3.3 0a1.65 1.65 0 1 0 -3.3 0M390.55 139.81a1.65 1.65 0 1 0 3.3 0a1.65 1.65 0 1 0 -3.3 0M391.41 139.75a1.65 1.65 0 1 0 3.3 0a1.65 1.65 0 1 0 -3.3 0M392.27 139.61a1.65 1.65 0 1 0 3.3 0a1.65 1.65 0 1 0 -3.3 0M393.13 139.66a1.65 1.65 0 1 0 3.3 0a1.65 1.65 0 1 0 -3.3 0M393.99 139.67a1.65 1.65 0 1 0 3.3 0a1.65 1.65 0 1 0 -3.3 0M394.85 139.65a1.65 1.65 0 1 0 3.3 0a1.65 1.65 0 1 0 -3.3 0M395.71 139.88a1.65 1.65 0 1 0 3.3 0a1.65 1.65 0 1 0 -3.3 0M396.56 139.71a1.65 1.65 0 1 0 3.3 0a1.65 1.65 0 1 0 -3.3 0M397.42 139.8a1.65 1.65 0 1 0 3.3 0a1.65 1.65 0 1 0 -3.3 0M398.28 139.78a1.65 1.65 0 1 0 3.3 0a1.65 1.65 0 1 0 -3.3 0M399.14 139.62a1.65 1.65 0 1 0 3.3 0a1.65 1.65 0 1 0 -3.3 0M400 139.68a1.65 1.65 0 1 0 3.3 0a1.65 1.65 0 1 0 -3.3 0M400.86 139.69a1.65 1.65 0 1 0 3.3 0a1.65 1.65 0 1 0 -3.3 0M401.72 139.61a1.65 1.65 0 1 0 3.3 0a1.65 1.65 0 1 0 -3.3 0M402.58 139.69a1.65 1.65 0 1 0 3.3 0a1.65 1.65 0 1 0 -3.3 0M403.44 139.81a1.65 1.65 0 1 0 3.3 0a1.65 1.65 0 1 0 -3.3 0M404.3 139.7a1.65 1.65 0 1 0 3.3 0a1.65 1.65 0 1 0 -3.3 0M405.15 139.75a1.65 1.65 0 1 0 3.3 0a1.65 1.65 0 1 0 -3.3 0M406.01 139.65a1.65 1.65 0 1 0 3.3 0a1.65 1.65 0 1 0 -3.3 0M406.87 139.67a1.65 1.65 0 1 0 3.3 0a1.65 1.65 0 1 0 -3.3 0M407.73 139.89a1.65 1.65 0 1 0 3.3 0a1.65 1.65 0 1 0 -3.3 0M408.59 139.75a1.65 1.65 0 1 0 3.3 0a1.65 1.65 0 1 0 -3.3 0M409.45 139.91a1.65 1.65 0 1 0 3.3 0a1.65 1.65 0 1 0 -3.3 0M410.31 139.7a1.65 1.65 0 1 0 3.3 0a1.65 1.65 0 1 0 -3.3 0M411.17 139.9a1.65 1.65 0 1 0 3.3 0a1.65 1.65 0 1 0 -3.3 0M412.03 139.8a1.65 1.65 0 1 0 3.3 0a1.65 1.65 0 1 0 -3.3 0M412.88 139.78a1.65 1.65 0 1 0 3.3 0a1.65 1.65 0 1 0 -3.3 0M413.74 139.66a1.65 1.65 0 1 0 3.3 0a1.65 1.65 0 1 0 -3.3 0M414.6 139.78a1.65 1.65 0 1 0 3.3 0a1.65 1.65 0 1 0 -3.3 0M415.46 139.84a1.65 1.65 0 1 0 3.3 0a1.65 1.65 0 1 0 -3.3 0M416.32 139.9a1.65 1.65 0 1 0 3.3 0a1.65 1.65 0 1 0 -3.3 0M417.18 139.64a1.65 1.65 0 1 0 3.3 0a1.65 1.65 0 1 0 -3.3 0M418.04 139.78a1.65 1.65 0 1 0 3.3 0a1.65 1.65 0 1 0 -3.3 0M418.9 139.72a1.65 1.65 0 1 0 3.3 0a1.65 1.65 0 1 0 -3.3 0M419.76 139.74a1.65 1.65 0 1 0 3.3 0a1.65 1.65 0 1 0 -3.3 0M420.62 139.89a1.65 1.65 0 1 0 3.3 0a1.65 1.65 0 1 0 -3.3 0M421.48 139.86a1.65 1.65 0 1 0 3.3 0a1.65 1.65 0 1 0 -3.3 0M422.33 139.67a1.65 1.65 0 1 0 3.3 0a1.65 1.65 0 1 0 -3.3 0M423.19 139.85a1.65 1.65 0 1 0 3.3 0a1.65 1.65 0 1 0 -3.3 0M424.05 139.73a1.65 1.65 0 1 0 3.3 0a1.65 1.65 0 1 0 -3.3 0M424.91 139.76a1.65 1.65 0 1 0 3.3 0a1.65 1.65 0 1 0 -3.3 0M425.77 139.82a1.65 1.65 0 1 0 3.3 0a1.65 1.65 0 1 0 -3.3 0M426.63 139.77a1.65 1.65 0 1 0 3.3 0a1.65 1.65 0 1 0 -3.3 0M427.49 139.66a1.65 1.65 0 1 0 3.3 0a1.65 1.65 0 1 0 -3.3 0M428.35 139.89a1.65 1.65 0 1 0 3.3 0a1.65 1.65 0 1 0 -3.3 0M429.21 139.92a1.65 1.65 0 1 0 3.3 0a1.65 1.65 0 1 0 -3.3 0M430.06 139.72a1.65 1.65 0 1 0 3.3 0a1.65 1.65 0 1 0 -3.3 0M430.92 139.7a1.65 1.65 0 1 0 3.3 0a1.65 1.65 0 1 0 -3.3 0M431.78 139.93a1.65 1.65 0 1 0 3.3 0a1.65 1.65 0 1 0 -3.3 0M432.64 139.89a1.65 1.65 0 1 0 3.3 0a1.65 1.65 0 1 0 -3.3 0M433.5 139.92a1.65 1.65 0 1 0 3.3 0a1.65 1.65 0 1 0 -3.3 0M434.36 139.81a1.65 1.65 0 1 0 3.3 0a1.65 1.65 0 1 0 -3.3 0M435.22 139.66a1.65 1.65 0 1 0 3.3 0a1.65 1.65 0 1 0 -3.3 0M436.08 139.78a1.65 1.65 0 1 0 3.3 0a1.65 1.65 0 1 0 -3.3 0M436.94 139.84a1.65 1.65 0 1 0 3.3 0a1.65 1.65 0 1 0 -3.3 0M437.8 139.66a1.65 1.65 0 1 0 3.3 0a1.65 1.65 0 1 0 -3.3 0M438.66 139.69a1.65 1.65 0 1 0 3.3 0a1.65 1.65 0 1 0 -3.3 0M439.51 139.75a1.65 1.65 0 1 0 3.3 0a1.65 1.65 0 1 0 -3.3 0M440.37 139.87a1.65 1.65 0 1 0 3.3 0a1.65 1.65 0 1 0 -3.3 0M441.23 139.73a1.65 1.65 0 1 0 3.3 0a1.65 1.65 0 1 0 -3.3 0M442.09 139.74a1.65 1.65 0 1 0 3.3 0a1.65 1.65 0 1 0 -3.3 0M442.95 139.77a1.65 1.65 0 1 0 3.3 0a1.65 1.65 0 1 0 -3.3 0M443.81 139.7a1.65 1.65 0 1 0 3.3 0a1.65 1.65 0 1 0 -3.3 0M444.67 139.92a1.65 1.65 0 1 0 3.3 0a1.65 1.65 0 1 0 -3.3 0M445.53 139.72a1.65 1.65 0 1 0 3.3 0a1.65 1.65 0 1 0 -3.3 0M446.39 139.95a1.65 1.65 0 1 0 3.3 0a1.65 1.65 0 1 0 -3.3 0M447.25 139.69a1.65 1.65 0 1 0 3.3 0a1.65 1.65 0 1 0 -3.3 0M448.1 139.68a1.65 1.65 0 1 0 3.3 0a1.65 1.65 0 1 0 -3.3 0M448.96 139.68a1.65 1.65 0 1 0 3.3 0a1.65 1.65 0 1 0 -3.3 0M449.82 139.73a1.65 1.65 0 1 0 3.3 0a1.65 1.65 0 1 0 -3.3 0M450.68 139.91a1.65 1.65 0 1 0 3.3 0a1.65 1.65 0 1 0 -3.3 0M451.54 139.77a1.65 1.65 0 1 0 3.3 0a1.65 1.65 0 1 0 -3.3 0M452.4 139.8a1.65 1.65 0 1 0 3.3 0a1.65 1.65 0 1 0 -3.3 0M453.26 139.75a1.65 1.65 0 1 0 3.3 0a1.65 1.65 0 1 0 -3.3 0M454.12 139.73a1.65 1.65 0 1 0 3.3 0a1.65 1.65 0 1 0 -3.3 0M454.98 139.68a1.65 1.65 0 1 0 3.3 0a1.65 1.65 0 1 0 -3.3 0M455.84 139.83a1.65 1.65 0 1 0 3.3 0a1.65 1.65 0 1 0 -3.3 0M456.69 139.71a1.65 1.65 0 1 0 3.3 0a1.65 1.65 0 1 0 -3.3 0M457.55 139.72a1.65 1.65 0 1 0 3.3 0a1.65 1.65 0 1 0 -3.3 0M458.41 139.78a1.65 1.65 0 1 0 3.3 0a1.65 1.65 0 1 0 -3.3 0M459.27 139.9a1.65 1.65 0 1 0 3.3 0a1.65 1.65 0 1 0 -3.3 0M460.13 139.65a1.65 1.65 0 1 0 3.3 0a1.65 1.65 0 1 0 -3.3 0M460.99 139.85a1.65 1.65 0 1 0 3.3 0a1.65 1.65 0 1 0 -3.3 0M461.85 139.78a1.65 1.65 0 1 0 3.3 0a1.65 1.65 0 1 0 -3.3 0M462.71 139.64a1.65 1.65 0 1 0 3.3 0a1.65 1.65 0 1 0 -3.3 0M463.57 139.91a1.65 1.65 0 1 0 3.3 0a1.65 1.65 0 1 0 -3.3 0M464.43 139.89a1.65 1.65 0 1 0 3.3 0a1.65 1.65 0 1 0 -3.3 0M465.28 139.71a1.65 1.65 0 1 0 3.3 0a1.65 1.65 0 1 0 -3.3 0M466.14 139.68a1.65 1.65 0 1 0 3.3 0a1.65 1.65 0 1 0 -3.3 0M467 139.84a1.65 1.65 0 1 0 3.3 0a1.65 1.65 0 1 0 -3.3 0M467.86 139.85a1.65 1.65 0 1 0 3.3 0a1.65 1.65 0 1 0 -3.3 0M468.72 139.86a1.65 1.65 0 1 0 3.3 0a1.65 1.65 0 1 0 -3.3 0M469.58 139.79a1.65 1.65 0 1 0 3.3 0a1.65 1.65 0 1 0 -3.3 0M470.44 139.86a1.65 1.65 0 1 0 3.3 0a1.65 1.65 0 1 0 -3.3 0M471.3 139.9a1.65 1.65 0 1 0 3.3 0a1.65 1.65 0 1 0 -3.3 0M472.16 139.72a1.65 1.65 0 1 0 3.3 0a1.65 1.65 0 1 0 -3.3 0M473.02 139.7a1.65 1.65 0 1 0 3.3 0a1.65 1.65 0 1 0 -3.3 0M473.87 139.83a1.65 1.65 0 1 0 3.3 0a1.65 1.65 0 1 0 -3.3 0M474.73 139.64a1.65 1.65 0 1 0 3.3 0a1.65 1.65 0 1 0 -3.3 0M475.59 139.79a1.65 1.65 0 1 0 3.3 0a1.65 1.65 0 1 0 -3.3 0M476.45 139.68a1.65 1.65 0 1 0 3.3 0a1.65 1.65 0 1 0 -3.3 0M477.31 139.62a1.65 1.65 0 1 0 3.3 0a1.65 1.65 0 1 0 -3.3 0M478.17 139.75a1.65 1.65 0 1 0 3.3 0a1.65 1.65 0 1 0 -3.3 0M479.03 139.81a1.65 1.65 0 1 0 3.3 0a1.65 1.65 0 1 0 -3.3 0M479.89 139.75a1.65 1.65 0 1 0 3.3 0a1.65 1.65 0 1 0 -3.3 0M480.75 139.68a1.65 1.65 0 1 0 3.3 0a1.65 1.65 0 1 0 -3.3 0M481.61 139.82a1.65 1.65 0 1 0 3.3 0a1.65 1.65 0 1 0 -3.3 0M482.46 139.61a1.65 1.65 0 1 0 3.3 0a1.65 1.65 0 1 0 -3.3 0M483.32 139.81a1.65 1.65 0 1 0 3.3 0a1.65 1.65 0 1 0 -3.3 0M484.18 139.68a1.65 1.65 0 1 0 3.3 0a1.65 1.65 0 1 0 -3.3 0M485.04 139.88a1.65 1.65 0 1 0 3.3 0a1.65 1.65 0 1 0 -3.3 0M485.9 139.61a1.65 1.65 0 1 0 3.3 0a1.65 1.65 0 1 0 -3.3 0M486.76 139.72a1.65 1.65 0 1 0 3.3 0a1.65 1.65 0 1 0 -3.3 0M487.62 139.66a1.65 1.65 0 1 0 3.3 0a1.65 1.65 0 1 0 -3.3 0M488.48 139.82a1.65 1.65 0 1 0 3.3 0a1.65 1.65 0 1 0 -3.3 0M489.34 139.66a1.65 1.65 0 1 0 3.3 0a1.65 1.65 0 1 0 -3.3 0M490.19 139.69a1.65 1.65 0 1 0 3.3 0a1.65 1.65 0 1 0 -3.3 0M491.05 139.66a1.65 1.65 0 1 0 3.3 0a1.65 1.65 0 1 0 -3.3 0M491.91 139.82a1.65 1.65 0 1 0 3.3 0a1.65 1.65 0 1 0 -3.3 0M492.77 139.87a1.65 1.65 0 1 0 3.3 0a1.65 1.65 0 1 0 -3.3 0M493.63 139.64a1.65 1.65 0 1 0 3.3 0a1.65 1.65 0 1 0 -3.3 0M494.49 139.71a1.65 1.65 0 1 0 3.3 0a1.65 1.65 0 1 0 -3.3 0M495.35 139.87a1.65 1.65 0 1 0 3.3 0a1.65 1.65 0 1 0 -3.3 0M496.21 139.7a1.65 1.65 0 1 0 3.3 0a1.65 1.65 0 1 0 -3.3 0M497.07 139.87a1.65 1.65 0 1 0 3.3 0a1.65 1.65 0 1 0 -3.3 0M497.93 139.59a1.65 1.65 0 1 0 3.3 0a1.65 1.65 0 1 0 -3.3 0M498.79 139.7a1.65 1.65 0 1 0 3.3 0a1.65 1.65 0 1 0 -3.3 0M499.64 139.84a1.65 1.65 0 1 0 3.3 0a1.65 1.65 0 1 0 -3.3 0M500.5 139.87a1.65 1.65 0 1 0 3.3 0a1.65 1.65 0 1 0 -3.3 0M501.36 139.67a1.65 1.65 0 1 0 3.3 0a1.65 1.65 0 1 0 -3.3 0M502.22 139.85a1.65 1.65 0 1 0 3.3 0a1.65 1.65 0 1 0 -3.3 0M503.08 139.58a1.65 1.65 0 1 0 3.3 0a1.65 1.65 0 1 0 -3.3 0M503.94 139.68a1.65 1.65 0 1 0 3.3 0a1.65 1.65 0 1 0 -3.3 0M504.8 139.67a1.65 1.65 0 1 0 3.3 0a1.65 1.65 0 1 0 -3.3 0M505.66 139.57a1.65 1.65 0 1 0 3.3 0a1.65 1.65 0 1 0 -3.3 0M506.52 139.67a1.65 1.65 0 1 0 3.3 0a1.65 1.65 0 1 0 -3.3 0M507.38 139.6a1.65 1.65 0 1 0 3.3 0a1.65 1.65 0 1 0 -3.3 0M508.23 139.63a1.65 1.65 0 1 0 3.3 0a1.65 1.65 0 1 0 -3.3 0M509.09 139.81a1.65 1.65 0 1 0 3.3 0a1.65 1.65 0 1 0 -3.3 0M509.95 139.69a1.65 1.65 0 1 0 3.3 0a1.65 1.65 0 1 0 -3.3 0M510.81 139.7a1.65 1.65 0 1 0 3.3 0a1.65 1.65 0 1 0 -3.3 0M511.67 139.84a1.65 1.65 0 1 0 3.3 0a1.65 1.65 0 1 0 -3.3 0M512.53 139.67a1.65 1.65 0 1 0 3.3 0a1.65 1.65 0 1 0 -3.3 0M513.39 139.57a1.65 1.65 0 1 0 3.3 0a1.65 1.65 0 1 0 -3.3 0M514.25 139.8a1.65 1.65 0 1 0 3.3 0a1.65 1.65 0 1 0 -3.3 0M515.11 139.57a1.65 1.65 0 1 0 3.3 0a1.65 1.65 0 1 0 -3.3 0M515.97 139.57a1.65 1.65 0 1 0 3.3 0a1.65 1.65 0 1 0 -3.3 0M516.82 139.63a1.65 1.65 0 1 0 3.3 0a1.65 1.65 0 1 0 -3.3 0M517.68 139.82a1.65 1.65 0 1 0 3.3 0a1.65 1.65 0 1 0 -3.3 0M518.54 139.64a1.65 1.65 0 1 0 3.3 0a1.65 1.65 0 1 0 -3.3 0M519.4 139.74a1.65 1.65 0 1 0 3.3 0a1.65 1.65 0 1 0 -3.3 0M520.26 139.77a1.65 1.65 0 1 0 3.3 0a1.65 1.65 0 1 0 -3.3 0M521.12 139.63a1.65 1.65 0 1 0 3.3 0a1.65 1.65 0 1 0 -3.3 0M521.98 139.78a1.65 1.65 0 1 0 3.3 0a1.65 1.65 0 1 0 -3.3 0M522.84 139.74a1.65 1.65 0 1 0 3.3 0a1.65 1.65 0 1 0 -3.3 0M523.7 139.56a1.65 1.65 0 1 0 3.3 0a1.65 1.65 0 1 0 -3.3 0M524.55 139.69a1.65 1.65 0 1 0 3.3 0a1.65 1.65 0 1 0 -3.3 0M525.41 139.84a1.65 1.65 0 1 0 3.3 0a1.65 1.65 0 1 0 -3.3 0M526.27 139.63a1.65 1.65 0 1 0 3.3 0a1.65 1.65 0 1 0 -3.3 0M527.13 139.7a1.65 1.65 0 1 0 3.3 0a1.65 1.65 0 1 0 -3.3 0M527.99 139.6a1.65 1.65 0 1 0 3.3 0a1.65 1.65 0 1 0 -3.3 0M528.85 139.77a1.65 1.65 0 1 0 3.3 0a1.65 1.65 0 1 0 -3.3 0"/>
<polyline fill="none" stroke="#ff2020" stroke-width="1" stroke-opacity="1" stroke-linejoin="round" points="101.86,149.44 102.72,161.64 103.58,270.17 104.44,332.03 105.3,210.23 106.15,239.77 107.01,279.37 107.87,205.52 108.73,211.52 109.59,154.15 110.45,108.76 111.31,113.69 112.17,100.2 113.03,95.49 113.89,130.6 114.74,140.02 115.6,128.03 116.46,143.23 117.32,154.79 118.18,139.38 119.04,131.67 119.9,125.67 120.76,140.87 121.62,125.67 122.47,138.09 123.33,137.45 124.19,125.67 125.05,120.75 125.91,125.67 126.77,122.68 127.63,121.61 128.49,108.12 129.35,116.04 130.21,131.67 131.06,134.67 131.92,141.94 132.78,146.23 133.64,140.02 134.5,145.37 135.36,149.44 136.22,142.8 137.08,129.96 137.94,123.96 138.8,128.46 139.66,122.68 140.51,117.97 141.37,126.75 142.23,136.81 143.09,131.45 143.95,137.45 144.81,142.8 145.67,144.08 146.53,142.37 147.39,132.74 148.25,141.52 149.1,148.15 149.96,149.44 150.82,155.43 151.68,159.5 152.54,149.44 153.4,150.08 154.26,152.86 155.12,152.43 155.98,148.79 156.84,151.58 157.69,154.57 158.55,148.37 159.41,152.43 160.27,157.14 161.13,151.58 161.99,145.8 162.85,139.59 163.71,138.09 164.57,133.17 165.43,139.59 166.28,135.74 167.14,139.59 168,135.31 168.86,141.09 169.72,141.09 170.58,137.66 171.44,141.09 172.3,138.73 173.16,132.52 174.01,131.03 174.87,130.6 175.73,131.67 176.59,135.52 177.45,136.81 178.31,139.38 179.17,138.52 180.03,134.67 180.89,140.02 181.75,142.16 182.61,141.52 183.46,139.38 184.32,135.95 185.18,133.38 186.04,134.67 186.9,135.95 187.76,137.14 188.62,138.09 189.48,138.17 190.34,138.29 191.19,138.77 192.05,139.19 192.91,139.55 193.77,138.82 194.63,138.03 195.49,137.45 196.35,138.17 197.21,139.27 198.07,140 198.93,140.59 199.78,140.25 200.64,139.85 201.5,138.96 202.36,137.99 203.22,138.11 204.08,137.72 204.94,137.35 205.8,136.93 206.66,135.97 207.52,135.68 208.38,135.64 209.23,135.97 210.09,136.11 210.95,136.53 211.81,136.94 212.67,137.56 213.53,137.74 214.39,137.97 215.25,138.38 216.11,139.07 216.97,139.33 217.82,139.42 218.68,139.89 219.54,139.87 220.4,139.28 221.26,138.61 222.12,138.25 222.98,137.86 223.84,137.78 224.7,138.19 225.56,138.68 226.41,139.8 227.27,140.63 228.13,140.57 228.99,140.65 229.85,141.11 230.71,140.78 231.57,140.99 232.43,141.38 233.29,141.17 234.15,141.49 235,141.87 235.86,141.48 236.72,141.21 237.58,140.84 238.44,140.32 239.3,139.67 240.16,139.36 241.02,139.14 241.88,138.83 242.73,138.7 243.59,138.63 244.45,139.04 245.31,139.43 246.17,140.13 247.03,140.05 247.89,139.91 248.75,139.65 249.61,138.74 250.47,137.96 251.32,137.91 252.18,138.17 253.04,137.61 253.9,137.8 254.76,137.68 255.62,137.53 256.48,137.62 257.34,137.18 258.2,137.1 259.06,137.35 259.91,137.33 260.77,137.76 261.63,137.94 262.49,138.06 263.35,137.8 264.21,137.91 265.07,137.72 265.93,137.86 266.79,138.27 267.65,138.26 268.5,138.27 269.36,137.83 270.22,137.82 271.08,138.07 271.94,138.35 272.8,138.64 273.66,138.85 274.52,139.9 275.38,140.2 276.24,140.01 277.1,139.89 277.95,139.68 278.81,138.54 279.67,137.93 280.53,136.99 281.39,137.24 282.25,136.83 283.11,137.46 283.97,137.26 284.83,137.3 285.69,137.94 286.54,137.72 287.4,137.83 288.26,138.55 289.12,138.91 289.98,139.68 290.84,140.4 291.7,140.81 292.56,141.11 293.42,141.15 294.27,140.76 295.13,140.38 295.99,139.93 296.85,139.46 297.71,138.91 298.57,138.9 299.43,139.29 300.29,139.2 301.15,139.57 302.01,139.59 302.87,140 303.72,140.64 304.58,140.8 305.44,141.25 306.3,141.22 307.16,141.21 308.02,141.05 308.88,140.74 309.74,140.42 310.6,140.12 311.45,139.56 312.31,139.6 313.17,139.2 314.03,139.25 314.89,139.37 315.75,139.96 316.61,139.77 317.47,140.29 318.33,140.64 319.19,140.45 320.04,140.75 320.9,141.27 321.76,140.89 322.62,141.18 323.48,141.02 324.34,141.32 325.2,141.18 326.06,140.79 326.92,141.06 327.78,140.62 328.63,140.93 329.49,140.4 330.35,140.25 331.21,140.28 332.07,140.28 332.93,140.45 333.79,140 334.65,140.24 335.51,139.95 336.37,140.31 337.23,139.94 338.08,140.28 338.94,139.95 339.8,139.94 340.66,140.17 341.52,140.23 342.38,140.06 343.24,140.22 344.1,139.97 344.96,139.93 345.81,140.2 346.67,140.76 347.53,140.88 348.39,140.91 349.25,140.81 350.11,140.98 350.97,140.46 351.83,140.68 352.69,140.37 353.55,139.95 354.4,139.7 355.26,139.75 356.12,139.51 356.98,140.02 357.84,140.14 358.7,139.88 359.56,139.73 360.42,139.6 361.28,139.21 362.14,139.37 363,138.72 363.85,138.49 364.71,138.25 365.57,138.26 366.43,138.71 367.29,138.37 368.15,138.55 369.01,138.55 369.87,139.05 370.73,139.12 371.58,139.24 372.44,139.5 373.3,139.66 374.16,139.96 375.02,140.22 375.88,140.35 376.74,140.3 377.6,140 378.46,140.2 379.32,139.84 380.18,139.18 381.03,139.42 381.89,139.05 382.75,138.43 383.61,138.4 384.47,138.37 385.33,138.08 386.19,138.04 387.05,137.74 387.91,137.68 388.76,137.67 389.62,137.96 390.48,138.01 391.34,137.94 392.2,138.14 393.06,137.98 393.92,138.09 394.78,138.14 395.64,137.74 396.5,138.17 397.36,138.27 398.21,138.27 399.07,138.44 399.93,138.81 400.79,138.91 401.65,138.76 402.51,139.21 403.37,139.14 404.23,138.88 405.09,139.36 405.94,139.53 406.8,139.65 407.66,139.84 408.52,140.31 409.38,140.53 410.24,140.07 411.1,140.59 411.96,140.37 412.82,140.23 413.68,140.24 414.53,140.21 415.39,140.7 416.25,140.64 417.11,140.69 417.97,140.31 418.83,140.48 419.69,140.21 420.55,140.5 421.41,140.32 422.27,140.44 423.12,140.27 423.98,140.78 424.84,140.84 425.7,140.84 426.56,140.52 427.42,140.9 428.28,140.51 429.14,140.46 430,140.34 430.86,140.44 431.71,140.41 432.57,140.54 433.43,140.44 434.29,140.73 435.15,140.55 436.01,140.71 436.87,140.56 437.73,140.54 438.59,140.53 439.45,140.23 440.31,140.6 441.16,140.31 442.02,140.2 442.88,140.59 443.74,140.4 444.6,140.33 445.46,140.1 446.32,140.14 447.18,140.33 448.04,140.59 448.89,140.34 449.75,140.22 450.61,140.34 451.47,140.32 452.33,140.55 453.19,140.7 454.05,140.54 454.91,140.55 455.77,140.4 456.63,140.98 457.49,140.73 458.34,140.97 459.2,140.64 460.06,140.73 460.92,141.07 461.78,141.02 462.64,140.51 463.5,141.02 464.36,140.81 465.22,140.66 466.07,140.88 466.93,140.92 467.79,140.35 468.65,140.54 469.51,140.73 470.37,140.49 471.23,140.31 472.09,140 472.95,140.06 473.81,140.25 474.67,139.89 475.52,140.16 476.38,139.81 477.24,140.03 478.1,139.94 478.96,140.06 479.82,139.88 480.68,140.29 481.54,140.25 482.4,139.88 483.25,140.33 484.11,139.97 484.97,140.11 485.83,140.09 486.69,140.27 487.55,140.04 488.41,140.13 489.27,140.37 490.13,140.47 490.99,140.32 491.84,140.62 492.7,140.55 493.56,140.21 494.42,140.27 495.28,140.39 496.14,140.23 497,140.5 497.86,140.19 498.72,140.24 499.58,140.2 500.44,140.17 501.29,140.68 502.15,140.59 503.01,140.73 503.87,140.3 504.73,140.65 505.59,140.61 506.45,140.46 507.31,140.35 508.17,140.43 509.02,140.84 509.88,140.86 510.74,140.5 511.6,140.79 512.46,140.33 513.32,140.52 514.18,140.41 515.04,140.83 515.9,140.52 516.76,140.72 517.62,140.26 518.47,140.77 519.33,140.64 520.19,140.37 521.05,140.71 521.91,140.26 522.77,140.26 523.63,140.04 524.49,140.56 525.35,140.55 526.2,140.1 527.06,140.51 527.92,140.15 528.78,140.17 529.64,140.46 530.5,140.38"/>
<path fill="#ff0000" d="M100.36 149.44a1.5 1.5 0 1 0 3 0a1.5 1.5 0 1 0 -3 0M101.22 161.64a1.5 1.5 0 1 0 3 0a1.5 1.5 0 1 0 -3 0M102.08 270.17a1.5 1.5 0 1 0 3 0a1.5 1.5 0 1 0 -3 0M102.94 332.03a1.5 1.5 0 1 0 3 0a1.5 1.5 0 1 0 -3 0M103.8 210.23a1.5 1.5 0 1 0 3 0a1.5 1.5 0 1 0 -3 0M104.65 239.77a1.5 1.5 0 1 0 3 0a1.5 1.5 0 1 0 -3 0M105.51 279.37a1.5 1.5 0 1 0 3 0a1.5 1.5 0 1 0 -3 0M106.37 205.52a1.5 1.5 0 1 0 3 0a1.5 1.5 0 1 0 -3 0M107.23 211.52a1.5 1.5 0 1 0 3 0a1.5 1.5 0 1 0 -3 0M108.09 154.15a1.5 1.5 0 1 0 3 0a1.5 1.5 0 1 0 -3 0M108.95 108.76a1.5 1.5 0 1 0 3 0a1.5 1.5 0 1 0 -3 0M109.81 113.69a1.5 1.5 0 1 0 3 0a1.5 1.5 0 1 0 -3 0M110.67 100.2a1.5 1.5 0 1 0 3 0a1.5 1.5 0 1 0 -3 0M111.53 95.49a1.5 1.5 0 1 0 3 0a1.5 1.5 0 1 0 -3 0M112.39 130.6a1.5 1.5 0 1 0 3 0a1.5 1.5 0 1 0 -3 0M113.24 140.02a1.5 1.5 0 1 0 3 0a1.5 1.5 0 1 0 -3 0M114.1 128.03a1.5 1.5 0 1 0 3 0a1.5 1.5 0 1 0 -3 0M114.96 143.23a1.5 1.5 0 1 0 3 0a1.5 1.5 0 1 0 -3 0M115.82 154.79a1.5 1.5 0 1 0 3 0a1.5 1.5 0 1 0 -3 0M116.68 139.38a1.5 1.5 0 1 0 3 0a1.5 1.5 0 1 0 -3 0M117.54 131.67a1.5 1.5 0 1 0 3 0a1.5 1.5 0 1 0 -3 0M118.4 125.67a1.5 1.5 0 1 0 3 0a1.5 1.5 0 1 0 -3 0M119.26 140.87a1.5 1.5 0 1 0 3 0a1.5 1.5 0 1 0 -3 0M120.12 125.67a1.5 1.5 0 1 0 3 0a1.5 1.5 0 1 0 -3 0M120.97 138.09a1.5 1.5 0 1 0 3 0a1.5 1.5 0 1 0 -3 0M121.83 137.45a1.5 1.5 0 1 0 3 0a1.5 1.5 0 1 0 -3 0M122.69 125.67a1.5 1.5 0 1 0 3 0a1.5 1.5 0 1 0 -3 0M123.55 120.75a1.5 1.5 0 1 0 3 0a1.5 1.5 0 1 0 -3 0M124.41 125.67a1.5 1.5 0 1 0 3 0a1.5 1.5 0 1 0 -3 0M125.27 122.68a1.5 1.5 0 1 0 3 0a1.5 1.5 0 1 0 -3 0M126.13 121.61a1.5 1.5 0 1 0 3 0a1.5 1.5 0 1 0 -3 0M126.99 108.12a1.5 1.5 0 1 0 3 0a1.5 1.5 0 1 0 -3 0M127.85 116.04a1.5 1.5 0 1 0 3 0a1.5 1.5 0 1 0 -3 0M128.71 131.67a1.5 1.5 0 1 0 3 0a1.5 1.5 0 1 0 -3 0M129.56 134.67a1.5 1.5 0 1 0 3 0a1.5 1.5 0 1 0 -3 0M130.42 141.94a1.5 1.5 0 1 0 3 0a1.5 1.5 0 1 0 -3 0M131.28 146.23a1.5 1.5 0 1 0 3 0a1.5 1.5 0 1 0 -3 0M132.14 140.02a1.5 1.5 0 1 0 3 0a1.5 1.5 0 1 0 -3 0M133 145.37a1.5 1.5 0 1 0 3 0a1.5 1.5 0 1 0 -3 0M133.86 149.44a1.5 1.5 0 1 0 3 0a1.5 1.5 0 1 0 -3 0M134.72 142.8a1.5 1.5 0 1 0 3 0a1.5 1.5 0 1 0 -3 0M135.58 129.96a1.5 1.5 0 1 0 3 0a1.5 1.5 0 1 0 -3 0M136.44 123.96a1.5 1.5 0 1 0 3 0a1.5 1.5 0 1 0 -3 0M137.3 128.46a1.5 1.5 0 1 0 3 0a1.5 1.5 0 1 0 -3 0M138.16 122.68a1.5 1.5 0 1 0 3 0a1.5 1.5 0 1 0 -3 0M139.01 117.97a1.5 1.5 0 1 0 3 0a1.5 1.5 0 1 0 -3 0M139.87 126.75a1.5 1.5 0 1 0 3 0a1.5 1.5 0 1 0 -3 0M140.73 136.81a1.5 1.5 0 1 0 3 0a1.5 1.5 0 1 0 -3 0M141.59 131.45a1.5 1.5 0 1 0 3 0a1.5 1.5 0 1 0 -3 0M142.45 137.45a1.5 1.5 0 1 0 3 0a1.5 1.5 0 1 0 -3 0M143.31 142.8a1.5 1.5 0 1 0 3 0a1.5 1.5 0 1 0 -3 0M144.17 144.08a1.5 1.5 0 1 0 3 0a1.5 1.5 0 1 0 -3 0M145.03 142.37a1.5 1.5 0 1 0 3 0a1.5 1.5 0 1 0 -3 0M145.89 132.74a1.5 1.5 0 1 0 3 0a1.5 1.5 0 1 0 -3 0M146.75 141.52a1.5 1.5 0 1 0 3 0a1.5 1.5 0 1 0 -3 0M147.6 148.15a1.5 1.5 0 1 0 3 0a1.5 1.5 0 1 0 -3 0M148.46 149.44a1.5 1.5 0 1 0 3 0a1.5 1.5 0 1 0 -3 0M149.32 155.43a1.5 1.5 0 1 0 3 0a1.5 1.5 0 1 0 -3 0M150.18 159.5a1.5 1.5 0 1 0 3 0a1.5 1.5 0 1 0 -3 0M151.04 149.44a1.5 1.5 0 1 0 3 0a1.5 1.5 0 1 0 -3 0M151.9 150.08a1.5 1.5 0 1 0 3 0a1.5 1.5 0 1 0 -3 0M152.76 152.86a1.5 1.5 0 1 0 3 0a1.5 1.5 0 1 0 -3 0M153.62 152.43a1.5 1.5 0 1 0 3 0a1.5 1.5 0 1 0 -3 0M154.48 148.79a1.5 1.5 0 1 0 3 0a1.5 1.5 0 1 0 -3 0M155.34 151.58a1.5 1.5 0 1 0 3 0a1.5 1.5 0 1 0 -3 0M156.19 154.57a1.5 1.5 0 1 0 3 0a1.5 1.5 0 1 0 -3 0M157.05 148.37a1.5 1.5 0 1 0 3 0a1.5 1.5 0 1 0 -3 0M157.91 152.43a1.5 1.5 0 1 0 3 0a1.5 1.5 0 1 0 -3 0M158.77 157.14a1.5 1.5 0 1 0 3 0a1.5 1.5 0 1 0 -3 0M159.63 151.58a1.5 1.5 0 1 0 3 0a1.5 1.5 0 1 0 -3 0M160.49 145.8a1.5 1.5 0 1 0 3 0a1.5 1.5 0 1 0 -3 0M161.35 139.59a1.5 1.5 0 1 0 3 0a1.5 1.5 0 1 0 -3 0M162.21 138.09a1.5 1.5 0 1 0 3 0a1.5 1.5 0 1 0 -3 0M163.07 133.17a1.5 1.5 0 1 0 3 0a1.5 1.5 0 1 0 -3 0M163.93 139.59a1.5 1.5 0 1 0 3 0a1.5 1.5 0 1 0 -3 0M164.78 135.74a1.5 1.5 0 1 0 3 0a1.5 1.5 0 1 0 -3 0M165.64 139.59a1.5 1.5 0 1 0 3 0a1.5 1.5 0 1 0 -3 0M166.5 135.31a1.5 1.5 0 1 0 3 0a1.5 1.5 0 1 0 -3 0M167.36 141.09a1.5 1.5 0 1 0 3 0a1.5 1.5 0 1 0 -3 0M168.22 141.09a1.5 1.5 0 1 0 3 0a1.5 1.5 0 1 0 -3 0M169.08 137.66a1.5 1.5 0 1 0 3 0a1.5 1.5 0 1 0 -3 0M169.94 141.09a1.5 1.5 0 1 0 3 0a1.5 1.5 0 1 0 -3 0M170.8 138.73a1.5 1.5 0 1 0 3 0a1.5 1.5 0 1 0 -3 0M171.66 132.52a1.5 1.5 0 1 0 3 0a1.5 1.5 0 1 0 -3 0M172.51 131.03a1.5 1.5 0 1 0 3 0a1.5 1.5 0 1 0 -3 0M173.37 130.6a1.5 1.5 0 1 0 3 0a1.5 1.5 0 1 0 -3 0M174.23 131.67a1.5 1.5 0 1 0 3 0a1.5 1.5 0 1 0 -3 0M175.09 135.52a1.5 1.5 0 1 0 3 0a1.5 1.5 0 1 0 -3 0M175.95 136.81a1.5 1.5 0 1 0 3 0a1.5 1.5 0 1 0 -3 0M176.81 139.38a1.5 1.5 0 1 0 3 0a1.5 1.5 0 1 0 -3 0M177.67 138.52a1.5 1.5 0 1 0 3 0a1.5 1.5 0 1 0 -3 0M178.53 134.67a1.5 1.5 0 1 0 3 0a1.5 1.5 0 1 0 -3 0M179.39 140.02a1.5 1.5 0 1 0 3 0a1.5 1.5 0 1 0 -3 0M180.25 142.16a1.5 1.5 0 1 0 3 0a1.5 1.5 0 1 0 -3 0M181.11 141.52a1.5 1.5 0 1 0 3 0a1.5 1.5 0 1 0 -3 0M181.96 139.38a1.5 1.5 0 1 0 3 0a1.5 1.5 0 1 0 -3 0M182.82 135.95a1.5 1.5 0 1 0 3 0a1.5 1.5 0 1 0 -3 0M183.68 133.38a1.5 1.5 0 1 0 3 0a1.5 1.5 0 1 0 -3 0M184.54 134.67a1.5 1.5 0 1 0 3 0a1.5 1.5 0 1 0 -3 0M185.4 135.95a1.5 1.5 0 1 0 3 0a1.5 1.5 0 1 0 -3 0M186.26 137.14a1.5 1.5 0 1 0 3 0a1.5 1.5 0 1 0 -3 0M187.12 138.09a1.5 1.5 0 1 0 3 0a1.5 1.5 0 1 0 -3 0M187.98 138.17a1.5 1.5 0 1 0 3 0a1.5 1.5 0 1 0 -3 0M188.84 138.29a1.5 1.5 0 1 0 3 0a1.5 1.5 0 1 0 -3 0M189.69 138.77a1.5 1.5 0 1 0 3 0a1.5 1.5 0 1 0 -3 0M190.55 139.19a1.5 1.5 0 1 0 3 0a1.5 1.5 0 1 0 -3 0M191.41 139.55a1.5 1.5 0 1 0 3 0a1.5 1.5 0 1 0 -3 0M192.27 138.82a1.5 1.5 0 1 0 3 0a1.5 1.5 0 1 0 -3 0M193.13 138.03a1.5 1.5 0 1 0 3 0a1.5 1.5 0 1 0 -3 0M193.99 137.45a1.5 1.5 0 1 0 3 0a1.5 1.5 0 1 0 -3 0M194.85 138.17a1.5 1.5 0 1 0 3 0a1.5 1.5 0 1 0 -3 0M195.71 139.27a1.5 1.5 0 1 0 3 0a1.5 1.5 0 1 0 -3 0M196.57 140a1.5 1.5 0 1 0 3 0a1.5 1.5 0 1 0 -3 0M197.43 140.59a1.5 1.5 0 1 0 3 0a1.5 1.5 0 1 0 -3 0M198.28 140.25a1.5 1.5 0 1 0 3 0a1.5 1.5 0 1 0 -3 0M199.14 139.85a1.5 1.5 0 1 0 3 0a1.5 1.5 0 1 0 -3 0M200 138.96a1.5 1.5 0 1 0 3 0a1.5 1.5 0 1 0 -3 0M200.86 137.99a1.5 1.5 0 1 0 3 0a1.5 1.5 0 1 0 -3 0M201.72 138.11a1.5 1.5 0 1 0 3 0a1.5 1.5 0 1 0 -3 0M202.58 137.72a1.5 1.5 0 1 0 3 0a1.5 1.5 0 1 0 -3 0M203.44 137.35a1.5 1.5 0 1 0 3 0a1.5 1.5 0 1 0 -3 0M204.3 136.93a1.5 1.5 0 1 0 3 0a1.5 1.5 0 1 0 -3 0M205.16 135.97a1.5 1.5 0 1 0 3 0a1.5 1.5 0 1 0 -3 0M206.02 135.68a1.5 1.5 0 1 0 3 0a1.5 1.5 0 1 0 -3 0M206.88 135.64a1.5 1.5 0 1 0 3 0a1.5 1.5 0 1 0 -3 0M207.73 135.97a1.5 1.5 0 1 0 3 0a1.5 1.5 0 1 0 -3 0M208.59 136.11a1.5 1.5 0 1 0 3 0a1.5 1.5 0 1 0 -3 0M209.45 136.53a1.5 1.5 0 1 0 3 0a1.5 1.5 0 1 0 -3 0M210.31 136.94a1.5 1.5 0 1 0 3 0a1.5 1.5 0 1 0 -3 0M211.17 137.56a1.5 1.5 0 1 0 3 0a1.5 1.5 0 1 0 -3 0M212.03 137.74a1.5 1.5 0 1 0 3 0a1.5 1.5 0 1 0 -3 0M212.89 137.97a1.5 1.5 0 1 0 3 0a1.5 1.5 0 1 0 -3 0M213.75 138.38a1.5 1.5 0 1 0 3 0a1.5 1.5 0 1 0 -3 0M214.61 139.07a1.5 1.5 0 1 0 3 0a1.5 1.5 0 1 0 -3 0M215.47 139.33a1.5 1.5 0 1 0 3 0a1.5 1.5 0 1 0 -3 0M216.32 139.42a1.5 1.5 0 1 0 3 0a1.5 1.5 0 1 0 -3 0M217.18 139.89a1.5 1.5 0 1 0 3 0a1.5 1.5 0 1 0 -3 0M218.04 139.87a1.5 1.5 0 1 0 3 0a1.5 1.5 0 1 0 -3 0M218.9 139.28a1.5 1.5 0 1 0 3 0a1.5 1.5 0 1 0 -3 0M219.76 138.61a1.5 1.5 0 1 0 3 0a1.5 1.5 0 1 0 -3 0M220.62 138.25a1.5 1.5 0 1 0 3 0a1.5 1.5 0 1 0 -3 0M221.48 137.86a1.5 1.5 0 1 0 3 0a1.5 1.5 0 1 0 -3 0M222.34 137.78a1.5 1.5 0 1 0 3 0a1.5 1.5 0 1 0 -3 0M223.2 138.19a1.5 1.5 0 1 0 3 0a1.5 1.5 0 1 0 -3 0M224.06 138.68a1.5 1.5 0 1 0 3 0a1.5 1.5 0 1 0 -3 0M224.91 139.8a1.5 1.5 0 1 0 3 0a1.5 1.5 0 1 0 -3 0M225.77 140.63a1.5 1.5 0 1 0 3 0a1.5 1.5 0 1 0 -3 0M226.63 140.57a1.5 1.5 0 1 0 3 0a1.5 1.5 0 1 0 -3 0M227.49 140.65a1.5 1.5 0 1 0 3 0a1.5 1.5 0 1 0 -3 0M228.35 141.11a1.5 1.5 0 1 0 3 0a1.5 1.5 0 1 0 -3 0M229.21 140.78a1.5 1.5 0 1 0 3 0a1.5 1.5 0 1 0 -3 0M230.07 140.99a1.5 1.5 0 1 0 3 0a1.5 1.5 0 1 0 -3 0M230.93 141.38a1.5 1.5 0 1 0 3 0a1.5 1.5 0 1 0 -3 0M231.79 141.17a1.5 1.5 0 1 0 3 0a1.5 1.5 0 1 0 -3 0M232.65 141.49a1.5 1.5 0 1 0 3 0a1.5 1.5 0 1 0 -3 0M233.5 141.87a1.5 1.5 0 1 0 3 0a1.5 1.5 0 1 0 -3 0M234.36 141.48a1.5 1.5 0 1 0 3 0a1.5 1.5 0 1 0 -3 0M235.22 141.21a1.5 1.5 0 1 0 3 0a1.5 1.5 0 1 0 -3 0M236.08 140.84a1.5 1.5 0 1 0 3 0a1.5 1.5 0 1 0 -3 0M236.94 140.32a1.5 1.5 0 1 0 3 0a1.5 1.5 0 1 0 -3 0M237.8 139.67a1.5 1.5 0 1 0 3 0a1.5 1.5 0 1 0 -3 0M238.66 139.36a1.5 1.5 0 1 0 3 0a1.5 1.5 0 1 0 -3 0M239.52 139.14a1.5 1.5 0 1 0 3 0a1.5 1.5 0 1 0 -3 0M240.38 138.83a1.5 1.5 0 1 0 3 0a1.5 1.5 0 1 0 -3 0M241.23 138.7a1.5 1.5 0 1 0 3 0a1.5 1.5 0 1 0 -3 0M242.09 138.63a1.5 1.5 0 1 0 3 0a1.5 1.5 0 1 0 -3 0M242.95 139.04a1.5 1.5 0 1 0 3 0a1.5 1.5 0 1 0 -3 0M243.81 139.43a1.5 1.5 0 1 0 3 0a1.5 1.5 0 1 0 -3 0M244.67 140.13a1.5 1.5 0 1 0 3 0a1.5 1.5 0 1 0 -3 0M245.53 140.05a1.5 1.5 0 1 0 3 0a1.5 1.5 0 1 0 -3 0M246.39 139.91a1.5 1.5 0 1 0 3 0a1.5 1.5 0 1 0 -3 0M247.25 139.65a1.5 1.5 0 1 0 3 0a1.5 1.5 0 1 0 -3 0M248.11 138.74a1.5 1.5 0 1 0 3 0a1.5 1.5 0 1 0 -3 0M248.97 137.96a1.5 1.5 0 1 0 3 0a1.5 1.5 0 1 0 -3 0M249.82 137.91a1.5 1.5 0 1 0 3 0a1.5 1.5 0 1 0 -3 0M250.68 138.17a1.5 1.5 0 1 0 3 0a1.5 1.5 0 1 0 -3 0M251.54 137.61a1.5 1.5 0 1 0 3 0a1.5 1.5 0 1 0 -3 0M252.4 137.8a1.5 1.5 0 1 0 3 0a1.5 1.5 0 1 0 -3 0M253.26 137.68a1.5 1.5 0 1 0 3 0a1.5 1.5 0 1 0 -3 0M254.12 137.53a1.5 1.5 0 1 0 3 0a1.5 1.5 0 1 0 -3 0M254.98 137.62a1.5 1.5 0 1 0 3 0a1.5 1.5 0 1 0 -3 0M255.84 137.18a1.5 1.5 0 1 0 3 0a1.5 1.5 0 1 0 -3 0M256.7 137.1a1.5 1.5 0 1 0 3 0a1.5 1.5 0 1 0 -3 0M257.56 137.35a1.5 1.5 0 1 0 3 0a1.5 1.5 0 1 0 -3 0M258.41 137.33a1.5 1.5 0 1 0 3 0a1.5 1.5 0 1 0 -3 0M259.27 137.76a1.5 1.5 0 1 0 3 0a1.5 1.5 0 1 0 -3 0M260.13 137.94a1.5 1.5 0 1 0 3 0a1.5 1.5 0 1 0 -3 0M260.99 138.06a1.5 1.5 0 1 0 3 0a1.5 1.5 0 1 0 -3 0M261.85 137.8a1.5 1.5 0 1 0 3 0a1.5 1.5 0 1 0 -3 0M262.71 137.91a1.5 1.5 0 1 0 3 0a1.5 1.5 0 1 0 -3 0M263.57 137.72a1.5 1.5 0 1 0 3 0a1.5 1.5 0 1 0 -3 0M264.43 137.86a1.5 1.5 0 1 0 3 0a1.5 1.5 0 1 0 -3 0M265.29 138.27a1.5 1.5 0 1 0 3 0a1.5 1.5 0 1 0 -3 0M266.15 138.26a1.5 1.5 0 1 0 3 0a1.5 1.5 0 1 0 -3 0M267 138.27a1.5 1.5 0 1 0 3 0a1.5 1.5 0 1 0 -3 0M267.86 137.83a1.5 1.5 0 1 0 3 0a1.5 1.5 0 1 0 -3 0M268.72 137.82a1.5 1.5 0 1 0 3 0a1.5 1.5 0 1 0 -3 0M269.58 138.07a1.5 1.5 0 1 0 3 0a1.5 1.5 0 1 0 -3 0M270.44 138.35a1.5 1.5 0 1 0 3 0a1.5 1.5 0 1 0 -3 0M271.3 138.64a1.5 1.5 0 1 0 3 0a1.5 1.5 0 1 0 -3 0M272.16 138.85a1.5 1.5 0 1 0 3 0a1.5 1.5 0 1 0 -3 0M273.02 139.9a1.5 1.5 0 1 0 3 0a1.5 1.5 0 1 0 -3 0M273.88 140.2a1.5 1.5 0 1 0 3 0a1.5 1.5 0 1 0 -3 0M274.74 140.01a1.5 1.5 0 1 0 3 0a1.5 1.5 0 1 0 -3 0M275.6 139.89a1.5 1.5 0 1 0 3 0a1.5 1.5 0 1 0 -3 0M276.45 139.68a1.5 1.5 0 1 0 3 0a1.5 1.5 0 1 0 -3 0M277.31 138.54a1.5 1.5 0 1 0 3 0a1.5 1.5 0 1 0 -3 0M278.17 137.93a1.5 1.5 0 1 0 3 0a1.5 1.5 0 1 0 -3 0M279.03 136.99a1.5 1.5 0 1 0 3 0a1.5 1.5 0 1 0 -3 0M279.89 137.24a1.5 1.5 0 1 0 3 0a1.5 1.5 0 1 0 -3 0M280.75 136.83a1.5 1.5 0 1 0 3 0a1.5 1.5 0 1 0 -3 0M281.61 137.46a1.5 1.5 0 1 0 3 0a1.5 1.5 0 1 0 -3 0M282.47 137.26a1.5 1.5 0 1 0 3 0a1.5 1.5 0 1 0 -3 0M283.33 137.3a1.5 1.5 0 1 0 3 0a1.5 1.5 0 1 0 -3 0M284.19 137.94a1.5 1.5 0 1 0 3 0a1.5 1.5 0 1 0 -3 0M285.04 137.72a1.5 1.5 0 1 0 3 0a1.5 1.5 0 1 0 -3 0M285.9 137.83a1.5 1.5 0 1 0 3 0a1.5 1.5 0 1 0 -3 0M286.76 138.55a1.5 1.5 0 1 0 3 0a1.5 1.5 0 1 0 -3 0M287.62 138.91a1.5 1.5 0 1 0 3 0a1.5 1.5 0 1 0 -3 0M288.48 139.68a1.5 1.5 0 1 0 3 0a1.5 1.5 0 1 0 -3 0M289.34 140.4a1.5 1.5 0 1 0 3 0a1.5 1.5 0 1 0 -3 0M290.2 140.81a1.5 1.5 0 1 0 3 0a1.5 1.5 0 1 0 -3 0M291.06 141.11a1.5 1.5 0 1 0 3 0a1.5 1.5 0 1 0 -3 0M291.92 141.15a1.5 1.5 0 1 0 3 0a1.5 1.5 0 1 0 -3 0M292.77 140.76a1.5 1.5 0 1 0 3 0a1.5 1.5 0 1 0 -3 0M293.63 140.38a1.5 1.5 0 1 0 3 0a1.5 1.5 0 1 0 -3 0M294.49 139.93a1.5 1.5 0 1 0 3 0a1.5 1.5 0 1 0 -3 0M295.35 139.46a1.5 1.5 0 1 0 3 0a1.5 1.5 0 1 0 -3 0M296.21 138.91a1.5 1.5 0 1 0 3 0a1.5 1.5 0 1 0 -3 0M297.07 138.9a1.5 1.5 0 1 0 3 0a1.5 1.5 0 1 0 -3 0M297.93 139.29a1.5 1.5 0 1 0 3 0a1.5 1.5 0 1 0 -3 0M298.79 139.2a1.5 1.5 0 1 0 3 0a1.5 1.5 0 1 0 -3 0M299.65 139.57a1.5 1.5 0 1 0 3 0a1.5 1.5 0 1 0 -3 0M300.51 139.59a1.5 1.5 0 1 0 3 0a1.5 1.5 0 1 0 -3 0M301.37 140a1.5 1.5 0 1 0 3 0a1.5 1.5 0 1 0 -3 0M302.22 140.64a1.5 1.5 0 1 0 3 0a1.5 1.5 0 1 0 -3 0M303.08 140.8a1.5 1.5 0 1 0 3 0a1.5 1.5 0 1 0 -3 0M303.94 141.25a1.5 1.5 0 1 0 3 0a1.5 1.5 0 1 0 -3 0M304.8 141.22a1.5 1.5 0 1 0 3 0a1.5 1.5 0 1 0 -3 0M305.66 141.21a1.5 1.5 0 1 0 3 0a1.5 1.5 0 1 0 -3 0M306.52 141.05a1.5 1.5 0 1 0 3 0a1.5 1.5 0 1 0 -3 0M307.38 140.74a1.5 1.5 0 1 0 3 0a1.5 1.5 0 1 0 -3 0M308.24 140.42a1.5 1.5 0 1 0 3 0a1.5 1.5 0 1 0 -3 0M309.1 140.12a1.5 1.5 0 1 0 3 0a1.5 1.5 0 1 0 -3 0M309.95 139.56a1.5 1.5 0 1 0 3 0a1.5 1.5 0 1 0 -3 0M310.81 139.6a1.5 1.5 0 1 0 3 0a1.5 1.5 0 1 0 -3 0M311.67 139.2a1.5 1.5 0 1 0 3 0a1.5 1.5 0 1 0 -3 0M312.53 139.25a1.5 1.5 0 1 0 3 0a1.5 1.5 0 1 0 -3 0M313.39 139.37a1.5 1.5 0 1 0 3 0a1.5 1.5 0 1 0 -3 0M314.25 139.96a1.5 1.5 0 1 0 3 0a1.5 1.5 0 1 0 -3 0M315.11 139.77a1.5 1.5 0 1 0 3 0a1.5 1.5 0 1 0 -3 0M315.97 140.29a1.5 1.5 0 1 0 3 0a1.5 1.5 0 1 0 -3 0M316.83 140.64a1.5 1.5 0 1 0 3 0a1.5 1.5 0 1 0 -3 0M317.69 140.45a1.5 1.5 0 1 0 3 0a1.5 1.5 0 1 0 -3 0M318.54 140.75a1.5 1.5 0 1 0 3 0a1.5 1.5 0 1 0 -3 0M319.4 141.27a1.5 1.5 0 1 0 3 0a1.5 1.5 0 1 0 -3 0M320.26 140.89a1.5 1.5 0 1 0 3 0a1.5 1.5 0 1 0 -3 0M321.12 141.18a1.5 1.5 0 1 0 3 0a1.5 1.5 0 1 0 -3 0M321.98 141.02a1.5 1.5 0 1 0 3 0a1.5 1.5 0 1 0 -3 0M322.84 141.32a1.5 1.5 0 1 0 3 0a1.5 1.5 0 1 0 -3 0M323.7 141.18a1.5 1.5 0 1 0 3 0a1.5 1.5 0 1 0 -3 0M324.56 140.79a1.5 1.5 0 1 0 3 0a1.5 1.5 0 1 0 -3 0M325.42 141.06a1.5 1.5 0 1 0 3 0a1.5 1.5 0 1 0 -3 0M326.28 140.62a1.5 1.5 0 1 0 3 0a1.5 1.5 0 1 0 -3 0M327.13 140.93a1.5 1.5 0 1 0 3 0a1.5 1.5 0 1 0 -3 0M327.99 140.4a1.5 1.5 0 1 0 3 0a1.5 1.5 0 1 0 -3 0M328.85 140.25a1.5 1.5 0 1 0 3 0a1.5 1.5 0 1 0 -3 0M329.71 140.28a1.5 1.5 0 1 0 3 0a1.5 1.5 0 1 0 -3 0M330.57 140.28a1.5 1.5 0 1 0 3 0a1.5 1.5 0 1 0 -3 0M331.43 140.45a1.5 1.5 0 1 0 3 0a1.5 1.5 0 1 0 -3 0M332.29 140a1.5 1.5 0 1 0 3 0a1.5 1.5 0 1 0 -3 0M333.15 140.24a1.5 1.5 0 1 0 3 0a1.5 1.5 0 1 0 -3 0M334.01 139.95a1.5 1.5 0 1 0 3 0a1.5 1.5 0 1 0 -3 0M334.87 140.31a1.5 1.5 0 1 0 3 0a1.5 1.5 0 1 0 -3 0M335.73 139.94a1.5 1.5 0 1 0 3 0a1.5 1.5 0 1 0 -3 0M336.58 140.28a1.5 1.5 0 1 0 3 0a1.5 1.5 0 1 0 -3 0M337.44 139.95a1.5 1.5 0 1 0 3 0a1.5 1.5 0 1 0 -3 0M338.3 139.94a1.5 1.5 0 1 0 3 0a1.5 1.5 0 1 0 -3 0M339.16 140.17a1.5 1.5 0 1 0 3 0a1.5 1.5 0 1 0 -3 0M340.02 140.23a1.5 1.5 0 1 0 3 0a1.5 1.5 0 1 0 -3 0M340.88 140.06a1.5 1.5 0 1 0 3 0a1.5 1.5 0 1 0 -3 0M341.74 140.22a1.5 1.5 0 1 0 3 0a1.5 1.5 0 1 0 -3 0M342.6 139.97a1.5 1.5 0 1 0 3 0a1.5 1.5 0 1 0 -3 0M343.46 139.93a1.5 1.5 0 1 0 3 0a1.5 1.5 0 1 0 -3 0M344.31 140.2a1.5 1.5 0 1 0 3 0a1.5 1.5 0 1 0 -3 0M345.17 140.76a1.5 1.5 0 1 0 3 0a1.5 1.5 0 1 0 -3 0M346.03 140.88a1.5 1.5 0 1 0 3 0a1.5 1.5 0 1 0 -3 0M346.89 140.91a1.5 1.5 0 1 0 3 0a1.5 1.5 0 1 0 -3 0M347.75 140.81a1.5 1.5 0 1 0 3 0a1.5 1.5 0 1 0 -3 0M348.61 140.98a1.5 1.5 0 1 0 3 0a1.5 1.5 0 1 0 -3 0M349.47 140.46a1.5 1.5 0 1 0 3 0a1.5 1.5 0 1 0 -3 0M350.33 140.68a1.5 1.5 0 1 0 3 0a1.5 1.5 0 1 0 -3 0M351.19 140.37a1.5 1.5 0 1 0 3 0a1.5 1.5 0 1 0 -3 0M352.05 139.95a1.5 1.5 0 1 0 3 0a1.5 1.5 0 1 0 -3 0M352.9 139.7a1.5 1.5 0 1 0 3 0a1.5 1.5 0 1 0 -3 0M353.76 139.75a1.5 1.5 0 1 0 3 0a1.5 1.5 0 1 0 -3 0M354.62 139.51a1.5 1.5 0 1 0 3 0a1.5 1.5 0 1 0 -3 0M355.48 140.02a1.5 1.5 0 1 0 3 0a1.5 1.5 0 1 0 -3 0M356.34 140.14a1.5 1.5 0 1 0 3 0a1.5 1.5 0 1 0 -3 0M357.2 139.88a1.5 1.5 0 1 0 3 0a1.5 1.5 0 1 0 -3 0M358.06 139.73a1.5 1.5 0 1 0 3 0a1.5 1.5 0 1 0 -3 0M358.92 139.6a1.5 1.5 0 1 0 3 0a1.5 1.5 0 1 0 -3 0M359.78 139.21a1.5 1.5 0 1 0 3 0a1.5 1.5 0 1 0 -3 0M360.64 139.37a1.5 1.5 0 1 0 3 0a1.5 1.5 0 1 0 -3 0M361.5 138.72a1.5 1.5 0 1 0 3 0a1.5 1.5 0 1 0 -3 0M362.35 138.49a1.5 1.5 0 1 0 3 0a1.5 1.5 0 1 0 -3 0M363.21 138.25a1.5 1.5 0 1 0 3 0a1.5 1.5 0 1 0 -3 0M364.07 138.26a1.5 1.5 0 1 0 3 0a1.5 1.5 0 1 0 -3 0M364.93 138.71a1.5 1.5 0 1 0 3 0a1.5 1.5 0 1 0 -3 0M365.79 138.37a1.5 1.5 0 1 0 3 0a1.5 1.5 0 1 0 -3 0M366.65 138.55a1.5 1.5 0 1 0 3 0a1.5 1.5 0 1 0 -3 0M367.51 138.55a1.5 1.5 0 1 0 3 0a1.5 1.5 0 1 0 -3 0M368.37 139.05a1.5 1.5 0 1 0 3 0a1.5 1.5 0 1 0 -3 0M369.23 139.12a1.5 1.5 0 1 0 3 0a1.5 1.5 0 1 0 -3 0M370.08 139.24a1.5 1.5 0 1 0 3 0a1.5 1.5 0 1 0 -3 0M370.94 139.5a1.5 1.5 0 1 0 3 0a1.5 1.5 0 1 0 -3 0M371.8 139.66a1.5 1.5 0 1 0 3 0a1.5 1.5 0 1 0 -3 0M372.66 139.96a1.5 1.5 0 1 0 3 0a1.5 1.5 0 1 0 -3 0M373.52 140.22a1.5 1.5 0 1 0 3 0a1.5 1.5 0 1 0 -3 0M374.38 140.35a1.5 1.5 0 1 0 3 0a1.5 1.5 0 1 0 -3 0M375.24 140.3a1.5 1.5 0 1 0 3 0a1.5 1.5 0 1 0 -3 0M376.1 140a1.5 1.5 0 1 0 3 0a1.5 1.5 0 1 0 -3 0M376.96 140.2a1.5 1.5 0 1 0 3 0a1.5 1.5 0 1 0 -3 0M377.82 139.84a1.5 1.5 0 1 0 3 0a1.5 1.5 0 1 0 -3 0M378.68 139.18a1.5 1.5 0 1 0 3 0a1.5 1.5 0 1 0 -3 0M379.53 139.42a1.5 1.5 0 1 0 3 0a1.5 1.5 0 1 0 -3 0M380.39 139.05a1.5 1.5 0 1 0 3 0a1.5 1.5 0 1 0 -3 0M381.25 138.43a1.5 1.5 0 1 0 3 0a1.5 1.5 0 1 0 -3 0M382.11 138.4a1.5 1.5 0 1 0 3 0a1.5 1.5 0 1 0 -3 0M382.97 138.37a1.5 1.5 0 1 0 3 0a1.5 1.5 0 1 0 -3 0M383.83 138.08a1.5 1.5 0 1 0 3 0a1.5 1.5 0 1 0 -3 0M384.69 138.04a1.5 1.5 0 1 0 3 0a1.5 1.5 0 1 0 -3 0M385.55 137.74a1.5 1.5 0 1 0 3 0a1.5 1.5 0 1 0 -3 0M386.41 137.68a1.5 1.5 0 1 0 3 0a1.5 1.5 0 1 0 -3 0M387.26 137.67a1.5 1.5 0 1 0 3 0a1.5 1.5 0 1 0 -3 0M388.12 137.96a1.5 1.5 0 1 0 3 0a1.5 1.5 0 1 0 -3 0M388.98 138.01a1.5 1.5 0 1 0 3 0a1.5 1.5 0 1 0 -3 0M389.84 137.94a1.5 1.5 0 1 0 3 0a1.5 1.5 0 1 0 -3 0M390.7 138.14a1.5 1.5 0 1 0 3 0a1.5 1.5 0 1 0 -3 0M391.56 137.98a1.5 1.5 0 1 0 3 0a1.5 1.5 0 1 0 -3 0M392.42 138.09a1.5 1.5 0 1 0 3 0a1.5 1.5 0 1 0 -3 0M393.28 138.14a1.5 1.5 0 1 0 3 0a1.5 1.5 0 1 0 -3 0M394.14 137.74a1.5 1.5 0 1 0 3 0a1.5 1.5 0 1 0 -3 0M395 138.17a1.5 1.5 0 1 0 3 0a1.5 1.5 0 1 0 -3 0M395.86 138.27a1.5 1.5 0 1 0 3 0a1.5 1.5 0 1 0 -3 0M396.71 138.27a1.5 1.5 0 1 0 3 0a1.5 1.5 0 1 0 -3 0M397.57 138.44a1.5 1.5 0 1 0 3 0a1.5 1.5 0 1 0 -3 0M398.43 138.81a1.5 1.5 0 1 0 3 0a1.5 1.5 0 1 0 -3 0M399.29 138.91a1.5 1.5 0 1 0 3 0a1.5 1.5 0 1 0 -3 0M400.15 138.76a1.5 1.5 0 1 0 3 0a1.5 1.5 0 1 0 -3 0M401.01 139.21a1.5 1.5 0 1 0 3 0a1.5 1.5 0 1 0 -3 0M401.87 139.14a1.5 1.5 0 1 0 3 0a1.5 1.5 0 1 0 -3 0M402.73 138.88a1.5 1.5 0 1 0 3 0a1.5 1.5 0 1 0 -3 0M403.59 139.36a1.5 1.5 0 1 0 3 0a1.5 1.5 0 1 0 -3 0M404.44 139.53a1.5 1.5 0 1 0 3 0a1.5 1.5 0 1 0 -3 0M405.3 139.65a1.5 1.5 0 1 0 3 0a1.5 1.5 0 1 0 -3 0M406.16 139.84a1.5 1.5 0 1 0 3 0a1.5 1.5 0 1 0 -3 0M407.02 140.31a1.5 1.5 0 1 0 3 0a1.5 1.5 0 1 0 -3 0M407.88 140.53a1.5 1.5 0 1 0 3 0a1.5 1.5 0 1 0 -3 0M408.74 140.07a1.5 1.5 0 1 0 3 0a1.5 1.5 0 1 0 -3 0M409.6 140.59a1.5 1.5 0 1 0 3 0a1.5 1.5 0 1 0 -3 0M410.46 140.37a1.5 1.5 0 1 0 3 0a1.5 1.5 0 1 0 -3 0M411.32 140.23a1.5 1.5 0 1 0 3 0a1.5 1.5 0 1 0 -3 0M412.18 140.24a1.5 1.5 0 1 0 3 0a1.5 1.5 0 1 0 -3 0M413.03 140.21a1.5 1.5 0 1 0 3 0a1.5 1.5 0 1 0 -3 0M413.89 140.7a1.5 1.5 0 1 0 3 0a1.5 1.5 0 1 0 -3 0M414.75 140.64a1.5 1.5 0 1 0 3 0a1.5 1.5 0 1 0 -3 0M415.61 140.69a1.5 1.5 0 1 0 3 0a1.5 1.5 0 1 0 -3 0M416.47 140.31a1.5 1.5 0 1 0 3 0a1.5 1.5 0 1 0 -3 0M417.33 140.48a1.5 1.5 0 1 0 3 0a1.5 1.5 0 1 0 -3 0M418.19 140.21a1.5 1.5 0 1 0 3 0a1.5 1.5 0 1 0 -3 0M419.05 140.5a1.5 1.5 0 1 0 3 0a1.5 1.5 0 1 0 -3 0M419.91 140.32a1.5 1.5 0 1 0 3 0a1.5 1.5 0 1 0 -3 0M420.77 140.44a1.5 1.5 0 1 0 3 0a1.5 1.5 0 1 0 -3 0M421.62 140.27a1.5 1.5 0 1 0 3 0a1.5 1.5 0 1 0 -3 0M422.48 140.78a1.5 1.5 0 1 0 3 0a1.5 1.5 0 1 0 -3 0M423.34 140.84a1.5 1.5 0 1 0 3 0a1.5 1.5 0 1 0 -3 0M424.2 140.84a1.5 1.5 0 1 0 3 0a1.5 1.5 0 1 0 -3 0M425.06 140.52a1.5 1.5 0 1 0 3 0a1.5 1.5 0 1 0 -3 0M425.92 140.9a1.5 1.5 0 1 0 3 0a1.5 1.5 0 1 0 -3 0M426.78 140.51a1.5 1.5 0 1 0 3 0a1.5 1.5 0 1 0 -3 0M427.64 140.46a1.5 1.5 0 1 0 3 0a1.5 1.5 0 1 0 -3 0M428.5 140.34a1.5 1.5 0 1 0 3 0a1.5 1.5 0 1 0 -3 0M429.36 140.44a1.5 1.5 0 1 0 3 0a1.5 1.5 0 1 0 -3 0M430.21 140.41a1.5 1.5 0 1 0 3 0a1.5 1.5 0 1 0 -3 0M431.07 140.54a1.5 1.5 0 1 0 3 0a1.5 1.5 0 1 0 -3 0M431.93 140.44a1.5 1.5 0 1 0 3 0a1.5 1.5 0 1 0 -3 0M432.79 140.73a1.5 1.5 0 1 0 3 0a1.5 1.5 0 1 0 -3 0M433.65 140.55a1.5 1.5 0 1 0 3 0a1.5 1.5 0 1 0 -3 0M434.51 140.71a1.5 1.5 0 1 0 3 0a1.5 1.5 0 1 0 -3 0M435.37 140.56a1.5 1.5 0 1 0 3 0a1.5 1.5 0 1 0 -3 0M436.23 140.54a1.5 1.5 0 1 0 3 0a1.5 1.5 0 1 0 -3 0M437.09 140.53a1.5 1.5 0 1 0 3 0a1.5 1.5 0 1 0 -3 0M437.95 140.23a1.5 1.5 0 1 0 3 0a1.5 1.5 0 1 0 -3 0M438.81 140.6a1.5 1.5 0 1 0 3 0a1.5 1.5 0 1 0 -3 0M439.66 140.31a1.5 1.5 0 1 0 3 0a1.5 1.5 0 1 0 -3 0M440.52 140.2a1.5 1.5 0 1 0 3 0a1.5 1.5 0 1 0 -3 0M441.38 140.59a1.5 1.5 0 1 0 3 0a1.5 1.5 0 1 0 -3 0M442.24 140.4a1.5 1.5 0 1 0 3 0a1.5 1.5 0 1 0 -3 0M443.1 140.33a1.5 1.5 0 1 0 3 0a1.5 1.5 0 1 0 -3 0M443.96 140.1a1.5 1.5 0 1 0 3 0a1.5 1.5 0 1 0 -3 0M444.82 140.14a1.5 1.5 0 1 0 3 0a1.5 1.5 0 1 0 -3 0M445.68 140.33a1.5 1.5 0 1 0 3 0a1.5 1.5 0 1 0 -3 0M446.54 140.59a1.5 1.5 0 1 0 3 0a1.5 1.5 0 1 0 -3 0M447.39 140.34a1.5 1.5 0 1 0 3 0a1.5 1.5 0 1 0 -3 0M448.25 140.22a1.5 1.5 0 1 0 3 0a1.5 1.5 0 1 0 -3 0M449.11 140.34a1.5 1.5 0 1 0 3 0a1.5 1.5 0 1 0 -3 0M449.97 140.32a1.5 1.5 0 1 0 3 0a1.5 1.5 0 1 0 -3 0M450.83 140.55a1.5 1.5 0 1 0 3 0a1.5 1.5 0 1 0 -3 0M451.69 140.7a1.5 1.5 0 1 0 3 0a1.5 1.5 0 1 0 -3 0M452.55 140.54a1.5 1.5 0 1 0 3 0a1.5 1.5 0 1 0 -3 0M453.41 140.55a1.5 1.5 0 1 0 3 0a1.5 1.5 0 1 0 -3 0M454.27 140.4a1.5 1.5 0 1 0 3 0a1.5 1.5 0 1 0 -3 0M455.13 140.98a1.5 1.5 0 1 0 3 0a1.5 1.5 0 1 0 -3 0M455.99 140.73a1.5 1.5 0 1 0 3 0a1.5 1.5 0 1 0 -3 0M456.84 140.97a1.5 1.5 0 1 0 3 0a1.5 1.5 0 1 0 -3 0M457.7 140.64a1.5 1.5 0 1 0 3 0a1.5 1.5 0 1 0 -3 0M458.56 140.73a1.5 1.5 0 1 0 3 0a1.5 1.5 0 1 0 -3 0M459.42 141.07a1.5 1.5 0 1 0 3 0a1.5 1.5 0 1 0 -3 0M460.28 141.02a1.5 1.5 0 1 0 3 0a1.5 1.5 0 1 0 -3 0M461.14 140.51a1.5 1.5 0 1 0 3 0a1.5 1.5 0 1 0 -3 0M462 141.02a1.5 1.5 0 1 0 3 0a1.5 1.5 0 1 0 -3 0M462.86 140.81a1.5 1.5 0 1 0 3 0a1.5 1.5 0 1 0 -3 0M463.72 140.66a1.5 1.5 0 1 0 3 0a1.5 1.5 0 1 0 -3 0M464.57 140.88a1.5 1.5 0 1 0 3 0a1.5 1.5 0 1 0 -3 0M465.43 140.92a1.5 1.5 0 1 0 3 0a1.5 1.5 0 1 0 -3 0M466.29 140.35a1.5 1.5 0 1 0 3 0a1.5 1.5 0 1 0 -3 0M467.15 140.54a1.5 1.5 0 1 0 3 0a1.5 1.5 0 1 0 -3 0M468.01 140.73a1.5 1.5 0 1 0 3 0a1.5 1.5 0 1 0 -3 0M468.87 140.49a1.5 1.5 0 1 0 3 0a1.5 1.5 0 1 0 -3 0M469.73 140.31a1.5 1.5 0 1 0 3 0a1.5 1.5 0 1 0 -3 0M470.59 140a1.5 1.5 0 1 0 3 0a1.5 1.5 0 1 0 -3 0M471.45 140.06a1.5 1.5 0 1 0 3 0a1.5 1.5 0 1 0 -3 0M472.31 140.25a1.5 1.5 0 1 0 3 0a1.5 1.5 0 1 0 -3 0M473.17 139.89a1.5 1.5 0 1 0 3 0a1.5 1.5 0 1 0 -3 0M474.02 140.16a1.5 1.5 0 1 0 3 0a1.5 1.5 0 1 0 -3 0M474.88 139.81a1.5 1.5 0 1 0 3 0a1.5 1.5 0 1 0 -3 0M475.74 140.03a1.5 1.5 0 1 0 3 0a1.5 1.5 0 1 0 -3 0M476.6 139.94a1.5 1.5 0 1 0 3 0a1.5 1.5 0 1 0 -3 0M477.46 140.06a1.5 1.5 0 1 0 3 0a1.5 1.5 0 1 0 -3 0M478.32 139.88a1.5 1.5 0 1 0 3 0a1.5 1.5 0 1 0 -3 0M479.18 140.29a1.5 1.5 0 1 0 3 0a1.5 1.5 0 1 0 -3 0M480.04 140.25a1.5 1.5 0 1 0 3 0a1.5 1.5 0 1 0 -3 0M480.9 139.88a1.5 1.5 0 1 0 3 0a1.5 1.5 0 1 0 -3 0M481.75 140.33a1.5 1.5 0 1 0 3 0a1.5 1.5 0 1 0 -3 0M482.61 139.97a1.5 1.5 0 1 0 3 0a1.5 1.5 0 1 0 -3 0M483.47 140.11a1.5 1.5 0 1 0 3 0a1.5 1.5 0 1 0 -3 0M484.33 140.09a1.5 1.5 0 1 0 3 0a1.5 1.5 0 1 0 -3 0M485.19 140.27a1.5 1.5 0 1 0 3 0a1.5 1.5 0 1 0 -3 0M486.05 140.04a1.5 1.5 0 1 0 3 0a1.5 1.5 0 1 0 -3 0M486.91 140.13a1.5 1.5 0 1 0 3 0a1.5 1.5 0 1 0 -3 0M487.77 140.37a1.5 1.5 0 1 0 3 0a1.5 1.5 0 1 0 -3 0M488.63 140.47a1.5 1.5 0 1 0 3 0a1.5 1.5 0 1 0 -3 0M489.49 140.32a1.5 1.5 0 1 0 3 0a1.5 1.5 0 1 0 -3 0M490.34 140.62a1.5 1.5 0 1 0 3 0a1.5 1.5 0 1 0 -3 0M491.2 140.55a1.5 1.5 0 1 0 3 0a1.5 1.5 0 1 0 -3 0M492.06 140.21a1.5 1.5 0 1 0 3 0a1.5 1.5 0 1 0 -3 0M492.92 140.27a1.5 1.5 0 1 0 3 0a1.5 1.5 0 1 0 -3 0M493.78 140.39a1.5 1.5 0 1 0 3 0a1.5 1.5 0 1 0 -3 0M494.64 140.23a1.5 1.5 0 1 0 3 0a1.5 1.5 0 1 0 -3 0M495.5 140.5a1.5 1.5 0 1 0 3 0a1.5 1.5 0 1 0 -3 0M496.36 140.19a1.5 1.5 0 1 0 3 0a1.5 1.5 0 1 0 -3 0M497.22 140.24a1.5 1.5 0 1 0 3 0a1.5 1.5 0 1 0 -3 0M498.08 140.2a1.5 1.5 0 1 0 3 0a1.5 1.5 0 1 0 -3 0M498.94 140.17a1.5 1.5 0 1 0 3 0a1.5 1.5 0 1 0 -3 0M499.79 140.68a1.5 1.5 0 1 0 3 0a1.5 1.5 0 1 0 -3 0M500.65 140.59a1.5 1.5 0 1 0 3 0a1.5 1.5 0 1 0 -3 0M501.51 140.73a1.5 1.5 0 1 0 3 0a1.5 1.5 0 1 0 -3 0M502.37 140.3a1.5 1.5 0 1 0 3 0a1.5 1.5 0 1 0 -3 0M503.23 140.65a1.5 1.5 0 1 0 3 0a1.5 1.5 0 1 0 -3 0M504.09 140.61a1.5 1.5 0 1 0 3 0a1.5 1.5 0 1 0 -3 0M504.95 140.46a1.5 1.5 0 1 0 3 0a1.5 1.5 0 1 0 -3 0M505.81 140.35a1.5 1.5 0 1 0 3 0a1.5 1.5 0 1 0 -3 0M506.67 140.43a1.5 1.5 0 1 0 3 0a1.5 1.5 0 1 0 -3 0M507.52 140.84a1.5 1.5 0 1 0 3 0a1.5 1.5 0 1 0 -3 0M508.38 140.86a1.5 1.5 0 1 0 3 0a1.5 1.5 0 1 0 -3 0M509.24 140.5a1.5 1.5 0 1 0 3 0a1.5 1.5 0 1 0 -3 0M510.1 140.79a1.5 1.5 0 1 0 3 0a1.5 1.5 0 1 0 -3 0M510.96 140.33a1.5 1.5 0 1 0 3 0a1.5 1.5 0 1 0 -3 0M511.82 140.52a1.5 1.5 0 1 0 3 0a1.5 1.5 0 1 0 -3 0M512.68 140.41a1.5 1.5 0 1 0 3 0a1.5 1.5 0 1 0 -3 0M513.54 140.83a1.5 1.5 0 1 0 3 0a1.5 1.5 0 1 0 -3 0M514.4 140.52a1.5 1.5 0 1 0 3 0a1.5 1.5 0 1 0 -3 0M515.26 140.72a1.5 1.5 0 1 0 3 0a1.5 1.5 0 1 0 -3 0M516.12 140.26a1.5 1.5 0 1 0 3 0a1.5 1.5 0 1 0 -3 0M516.97 140.77a1.5 1.5 0 1 0 3 0a1.5 1.5 0 1 0 -3 0M517.83 140.64a1.5 1.5 0 1 0 3 0a1.5 1.5 0 1 0 -3 0M518.69 140.37a1.5 1.5 0 1 0 3 0a1.5 1.5 0 1 0 -3 0M519.55 140.71a1.5 1.5 0 1 0 3 0a1.5 1.5 0 1 0 -3 0M520.41 140.26a1.5 1.5 0 1 0 3 0a1.5 1.5 0 1 0 -3 0M521.27 140.26a1.5 1.5 0 1 0 3 0a1.5 1.5 0 1 0 -3 0M522.13 140.04a1.5 1.5 0 1 0 3 0a1.5 1.5 0 1 0 -3 0M522.99 140.56a1.5 1.5 0 1 0 3 0a1.5 1.5 0 1 0 -3 0M523.85 140.55a1.5 1.5 0 1 0 3 0a1.5 1.5 0 1 0 -3 0M524.7 140.1a1.5 1.5 0 1 0 3 0a1.5 1.5 0 1 0 -3 0M525.56 140.51a1.5 1.5 0 1 0 3 0a1.5 1.5 0 1 0 -3 0M526.42 140.15a1.5 1.5 0 1 0 3 0a1.5 1.5 0 1 0 -3 0M527.28 140.17a1.5 1.5 0 1 0 3 0a1.5 1.5 0 1 0 -3 0M528.14 140.46a1.5 1.5 0 1 0 3 0a1.5 1.5 0 1 0 -3 0M529 140.38a1.5 1.5 0 1 0 3 0a1.5 1.5 0 1 0 -3 0"/>
<g stroke="#222" fill="none">
<line x1="101" y1="17" x2="101" y2="366" stroke-width="2.1" stroke="#303030"/>
<line x1="100" y1="365.2" x2="531.5" y2="365.2" stroke-width="1.6"/>
<line x1="94" y1="18" x2="101" y2="18" stroke-width="1.6"/>
<line x1="94" y1="104.75" x2="101" y2="104.75" stroke-width="1.6"/>
<line x1="94" y1="191.5" x2="101" y2="191.5" stroke-width="1.6"/>
<line x1="94" y1="278.25" x2="101" y2="278.25" stroke-width="1.6"/>
<line x1="94" y1="365" x2="101" y2="365" stroke-width="1.6"/>
<line x1="97.5" y1="61.38" x2="101" y2="61.38" stroke-width="1.6"/>
<line x1="97.5" y1="148.12" x2="101" y2="148.12" stroke-width="1.6"/>
<line x1="97.5" y1="234.88" x2="101" y2="234.88" stroke-width="1.6"/>
<line x1="97.5" y1="321.62" x2="101" y2="321.62" stroke-width="1.6"/>
<line x1="101" y1="365" x2="101" y2="371.8" stroke-width="1.6"/>
<line x1="186.9" y1="365" x2="186.9" y2="371.8" stroke-width="1.6"/>
<line x1="272.8" y1="365" x2="272.8" y2="371.8" stroke-width="1.6"/>
<line x1="358.7" y1="365" x2="358.7" y2="371.8" stroke-width="1.6"/>
<line x1="444.6" y1="365" x2="444.6" y2="371.8" stroke-width="1.6"/>
<line x1="530.5" y1="365" x2="530.5" y2="371.8" stroke-width="1.6"/>
<line x1="143.95" y1="365" x2="143.95" y2="368.5" stroke-width="1.6"/>
<line x1="229.85" y1="365" x2="229.85" y2="368.5" stroke-width="1.6"/>
<line x1="315.75" y1="365" x2="315.75" y2="368.5" stroke-width="1.6"/>
<line x1="401.65" y1="365" x2="401.65" y2="368.5" stroke-width="1.6"/>
<line x1="487.55" y1="365" x2="487.55" y2="368.5" stroke-width="1.6"/>
</g>
<g font-family="'Liberation Serif','Times New Roman',serif" font-size="15.5" fill="#2a2a2a">
<text x="90.2" y="24.3" text-anchor="end">8. 4455</text>
<text x="90.2" y="111.05" text-anchor="end">8. 4450</text>
<text x="90.2" y="197.8" text-anchor="end">8. 4445</text>
<text x="90.2" y="284.55" text-anchor="end">8. 4440</text>
<text x="90.2" y="371.3" text-anchor="end">8. 4435</text>
<text x="101" y="389.6" text-anchor="middle">0</text>
<text x="186.9" y="389.6" text-anchor="middle">100</text>
<text x="272.8" y="389.6" text-anchor="middle">200</text>
<text x="358.7" y="389.6" text-anchor="middle">300</text>
<text x="444.6" y="389.6" text-anchor="middle">400</text>
<text x="530.5" y="389.6" text-anchor="middle">500</text>
</g>
<text x="216" y="417" font-family="'Liberation Serif','Times New Roman',serif" font-size="23" fill="#111">Number of data</text>
<text transform="translate(25,253) rotate(-90)" font-family="'Liberation Serif','Times New Roman',serif" font-size="23.5" fill="#111">Frequency/GHz</text>
<rect x="434.6" y="8.3" width="87.5" height="46.5" fill="#fff" stroke="#7c7c7c" stroke-width="1.3"/>
<line x1="436.7" y1="20.7" x2="477.5" y2="20.7" stroke="#5c5c5c" stroke-width="1.8"/>
<circle cx="457" cy="20.6" r="1.35" fill="#0000ff"/>
<line x1="436.5" y1="42.95" x2="477.5" y2="42.95" stroke="#ff8080" stroke-width="2.3"/>
<circle cx="457" cy="42.8" r="1.5" fill="#ff0000"/>
<text x="482.5" y="26.6" font-family="'Liberation Serif','Times New Roman',serif" font-size="17.5" fill="#111">IBR</text>
<text x="482.5" y="48.5" font-family="'Liberation Serif','Times New Roman',serif" font-size="17.5" fill="#111">MLE</text>
<polyline fill="none" stroke="#3030ff" stroke-width="1" stroke-opacity="1" stroke-linejoin="round" points="326.74,228.9 328.67,254.2 330.61,276.8 332.55,269.2 334.49,268 336.43,272.8 338.36,268.6 340.3,265.8 342.24,258.9 344.18,250.4 346.12,243.9 348.05,238 349.99,232.8 351.93,230.8 353.87,229.1 355.81,227.7 357.74,227.65 359.68,227.4 361.62,226.77 363.56,225.81 365.5,225.59 367.43,225 369.37,224.11 371.31,223.28 373.25,222.83 375.19,222.66 377.12,222.02 379.06,221.13 381,220.35 382.94,220 384.88,219.6 386.81,218.79 388.75,218.63 390.69,218.87 392.63,219.18 394.57,219.3 396.5,219.43 398.44,219.68 400.38,219.87 402.32,219.87 404.26,219.7 406.19,219.6 408.13,219.48 410.07,219.19 412.01,218.85 413.95,218.63 415.88,218.61 417.82,218.68 419.76,218.79 421.7,218.9 423.64,218.98 425.57,219.01 427.51,219.13 429.45,219.32 431.39,219.4 433.33,219.55 435.26,219.93 437.2,220.32 439.14,220.5 441.08,220.57 443.02,220.79 444.95,221.08 446.89,221.31 448.83,221.4 450.77,221.46 452.71,221.61 454.64,221.79 456.58,221.94 458.52,222 460.46,221.98 462.4,221.93 464.33,221.87 466.27,221.82 468.21,221.8 470.15,221.78 472.09,221.73 474.02,221.67 475.96,221.62 477.9,221.6 479.84,221.59 481.78,221.55 483.71,221.5 485.65,221.45 487.59,221.41 489.53,221.4 491.47,221.4 493.4,221.39 495.34,221.37 497.28,221.35 499.22,221.33 501.16,221.31 503.09,221.3 505.03,221.3 506.97,221.3 508.91,221.3 510.85,221.3 512.78,221.3 514.72,221.3 516.66,221.3"/>
<path fill="#0000ff" d="M325.39 228.9a1.35 1.35 0 1 0 2.7 0a1.35 1.35 0 1 0 -2.7 0M327.32 254.2a1.35 1.35 0 1 0 2.7 0a1.35 1.35 0 1 0 -2.7 0M329.26 276.8a1.35 1.35 0 1 0 2.7 0a1.35 1.35 0 1 0 -2.7 0M331.2 269.2a1.35 1.35 0 1 0 2.7 0a1.35 1.35 0 1 0 -2.7 0M333.14 268a1.35 1.35 0 1 0 2.7 0a1.35 1.35 0 1 0 -2.7 0M335.08 272.8a1.35 1.35 0 1 0 2.7 0a1.35 1.35 0 1 0 -2.7 0M337.01 268.6a1.35 1.35 0 1 0 2.7 0a1.35 1.35 0 1 0 -2.7 0M338.95 265.8a1.35 1.35 0 1 0 2.7 0a1.35 1.35 0 1 0 -2.7 0M340.89 258.9a1.35 1.35 0 1 0 2.7 0a1.35 1.35 0 1 0 -2.7 0M342.83 250.4a1.35 1.35 0 1 0 2.7 0a1.35 1.35 0 1 0 -2.7 0M344.77 243.9a1.35 1.35 0 1 0 2.7 0a1.35 1.35 0 1 0 -2.7 0M346.7 238a1.35 1.35 0 1 0 2.7 0a1.35 1.35 0 1 0 -2.7 0M348.64 232.8a1.35 1.35 0 1 0 2.7 0a1.35 1.35 0 1 0 -2.7 0M350.58 230.8a1.35 1.35 0 1 0 2.7 0a1.35 1.35 0 1 0 -2.7 0M352.52 229.1a1.35 1.35 0 1 0 2.7 0a1.35 1.35 0 1 0 -2.7 0M354.46 227.7a1.35 1.35 0 1 0 2.7 0a1.35 1.35 0 1 0 -2.7 0M356.39 227.65a1.35 1.35 0 1 0 2.7 0a1.35 1.35 0 1 0 -2.7 0M358.33 227.4a1.35 1.35 0 1 0 2.7 0a1.35 1.35 0 1 0 -2.7 0M360.27 226.77a1.35 1.35 0 1 0 2.7 0a1.35 1.35 0 1 0 -2.7 0M362.21 225.81a1.35 1.35 0 1 0 2.7 0a1.35 1.35 0 1 0 -2.7 0M364.15 225.59a1.35 1.35 0 1 0 2.7 0a1.35 1.35 0 1 0 -2.7 0M366.08 225a1.35 1.35 0 1 0 2.7 0a1.35 1.35 0 1 0 -2.7 0M368.02 224.11a1.35 1.35 0 1 0 2.7 0a1.35 1.35 0 1 0 -2.7 0M369.96 223.28a1.35 1.35 0 1 0 2.7 0a1.35 1.35 0 1 0 -2.7 0M371.9 222.83a1.35 1.35 0 1 0 2.7 0a1.35 1.35 0 1 0 -2.7 0M373.84 222.66a1.35 1.35 0 1 0 2.7 0a1.35 1.35 0 1 0 -2.7 0M375.77 222.02a1.35 1.35 0 1 0 2.7 0a1.35 1.35 0 1 0 -2.7 0M377.71 221.13a1.35 1.35 0 1 0 2.7 0a1.35 1.35 0 1 0 -2.7 0M379.65 220.35a1.35 1.35 0 1 0 2.7 0a1.35 1.35 0 1 0 -2.7 0M381.59 220a1.35 1.35 0 1 0 2.7 0a1.35 1.35 0 1 0 -2.7 0M383.53 219.6a1.35 1.35 0 1 0 2.7 0a1.35 1.35 0 1 0 -2.7 0M385.46 218.79a1.35 1.35 0 1 0 2.7 0a1.35 1.35 0 1 0 -2.7 0M387.4 218.63a1.35 1.35 0 1 0 2.7 0a1.35 1.35 0 1 0 -2.7 0M389.34 218.87a1.35 1.35 0 1 0 2.7 0a1.35 1.35 0 1 0 -2.7 0M391.28 219.18a1.35 1.35 0 1 0 2.7 0a1.35 1.35 0 1 0 -2.7 0M393.22 219.3a1.35 1.35 0 1 0 2.7 0a1.35 1.35 0 1 0 -2.7 0M395.15 219.43a1.35 1.35 0 1 0 2.7 0a1.35 1.35 0 1 0 -2.7 0M397.09 219.68a1.35 1.35 0 1 0 2.7 0a1.35 1.35 0 1 0 -2.7 0M399.03 219.87a1.35 1.35 0 1 0 2.7 0a1.35 1.35 0 1 0 -2.7 0M400.97 219.87a1.35 1.35 0 1 0 2.7 0a1.35 1.35 0 1 0 -2.7 0M402.91 219.7a1.35 1.35 0 1 0 2.7 0a1.35 1.35 0 1 0 -2.7 0M404.84 219.6a1.35 1.35 0 1 0 2.7 0a1.35 1.35 0 1 0 -2.7 0M406.78 219.48a1.35 1.35 0 1 0 2.7 0a1.35 1.35 0 1 0 -2.7 0M408.72 219.19a1.35 1.35 0 1 0 2.7 0a1.35 1.35 0 1 0 -2.7 0M410.66 218.85a1.35 1.35 0 1 0 2.7 0a1.35 1.35 0 1 0 -2.7 0M412.6 218.63a1.35 1.35 0 1 0 2.7 0a1.35 1.35 0 1 0 -2.7 0M414.53 218.61a1.35 1.35 0 1 0 2.7 0a1.35 1.35 0 1 0 -2.7 0M416.47 218.68a1.35 1.35 0 1 0 2.7 0a1.35 1.35 0 1 0 -2.7 0M418.41 218.79a1.35 1.35 0 1 0 2.7 0a1.35 1.35 0 1 0 -2.7 0M420.35 218.9a1.35 1.35 0 1 0 2.7 0a1.35 1.35 0 1 0 -2.7 0M422.29 218.98a1.35 1.35 0 1 0 2.7 0a1.35 1.35 0 1 0 -2.7 0M424.22 219.01a1.35 1.35 0 1 0 2.7 0a1.35 1.35 0 1 0 -2.7 0M426.16 219.13a1.35 1.35 0 1 0 2.7 0a1.35 1.35 0 1 0 -2.7 0M428.1 219.32a1.35 1.35 0 1 0 2.7 0a1.35 1.35 0 1 0 -2.7 0M430.04 219.4a1.35 1.35 0 1 0 2.7 0a1.35 1.35 0 1 0 -2.7 0M431.98 219.55a1.35 1.35 0 1 0 2.7 0a1.35 1.35 0 1 0 -2.7 0M433.91 219.93a1.35 1.35 0 1 0 2.7 0a1.35 1.35 0 1 0 -2.7 0M435.85 220.32a1.35 1.35 0 1 0 2.7 0a1.35 1.35 0 1 0 -2.7 0M437.79 220.5a1.35 1.35 0 1 0 2.7 0a1.35 1.35 0 1 0 -2.7 0M439.73 220.57a1.35 1.35 0 1 0 2.7 0a1.35 1.35 0 1 0 -2.7 0M441.67 220.79a1.35 1.35 0 1 0 2.7 0a1.35 1.35 0 1 0 -2.7 0M443.6 221.08a1.35 1.35 0 1 0 2.7 0a1.35 1.35 0 1 0 -2.7 0M445.54 221.31a1.35 1.35 0 1 0 2.7 0a1.35 1.35 0 1 0 -2.7 0M447.48 221.4a1.35 1.35 0 1 0 2.7 0a1.35 1.35 0 1 0 -2.7 0M449.42 221.46a1.35 1.35 0 1 0 2.7 0a1.35 1.35 0 1 0 -2.7 0M451.36 221.61a1.35 1.35 0 1 0 2.7 0a1.35 1.35 0 1 0 -2.7 0M453.29 221.79a1.35 1.35 0 1 0 2.7 0a1.35 1.35 0 1 0 -2.7 0M455.23 221.94a1.35 1.35 0 1 0 2.7 0a1.35 1.35 0 1 0 -2.7 0M457.17 222a1.35 1.35 0 1 0 2.7 0a1.35 1.35 0 1 0 -2.7 0M459.11 221.98a1.35 1.35 0 1 0 2.7 0a1.35 1.35 0 1 0 -2.7 0M461.05 221.93a1.35 1.35 0 1 0 2.7 0a1.35 1.35 0 1 0 -2.7 0M462.98 221.87a1.35 1.35 0 1 0 2.7 0a1.35 1.35 0 1 0 -2.7 0M464.92 221.82a1.35 1.35 0 1 0 2.7 0a1.35 1.35 0 1 0 -2.7 0M466.86 221.8a1.35 1.35 0 1 0 2.7 0a1.35 1.35 0 1 0 -2.7 0M468.8 221.78a1.35 1.35 0 1 0 2.7 0a1.35 1.35 0 1 0 -2.7 0M470.74 221.73a1.35 1.35 0 1 0 2.7 0a1.35 1.35 0 1 0 -2.7 0M472.67 221.67a1.35 1.35 0 1 0 2.7 0a1.35 1.35 0 1 0 -2.7 0M474.61 221.62a1.35 1.35 0 1 0 2.7 0a1.35 1.35 0 1 0 -2.7 0M476.55 221.6a1.35 1.35 0 1 0 2.7 0a1.35 1.35 0 1 0 -2.7 0M478.49 221.59a1.35 1.35 0 1 0 2.7 0a1.35 1.35 0 1 0 -2.7 0M480.43 221.55a1.35 1.35 0 1 0 2.7 0a1.35 1.35 0 1 0 -2.7 0M482.36 221.5a1.35 1.35 0 1 0 2.7 0a1.35 1.35 0 1 0 -2.7 0M484.3 221.45a1.35 1.35 0 1 0 2.7 0a1.35 1.35 0 1 0 -2.7 0M486.24 221.41a1.35 1.35 0 1 0 2.7 0a1.35 1.35 0 1 0 -2.7 0M488.18 221.4a1.35 1.35 0 1 0 2.7 0a1.35 1.35 0 1 0 -2.7 0M490.12 221.4a1.35 1.35 0 1 0 2.7 0a1.35 1.35 0 1 0 -2.7 0M492.05 221.39a1.35 1.35 0 1 0 2.7 0a1.35 1.35 0 1 0 -2.7 0M493.99 221.37a1.35 1.35 0 1 0 2.7 0a1.35 1.35 0 1 0 -2.7 0M495.93 221.35a1.35 1.35 0 1 0 2.7 0a1.35 1.35 0 1 0 -2.7 0M497.87 221.33a1.35 1.35 0 1 0 2.7 0a1.35 1.35 0 1 0 -2.7 0M499.81 221.31a1.35 1.35 0 1 0 2.7 0a1.35 1.35 0 1 0 -2.7 0M501.74 221.3a1.35 1.35 0 1 0 2.7 0a1.35 1.35 0 1 0 -2.7 0M503.68 221.3a1.35 1.35 0 1 0 2.7 0a1.35 1.35 0 1 0 -2.7 0M505.62 221.3a1.35 1.35 0 1 0 2.7 0a1.35 1.35 0 1 0 -2.7 0M507.56 221.3a1.35 1.35 0 1 0 2.7 0a1.35 1.35 0 1 0 -2.7 0M509.5 221.3a1.35 1.35 0 1 0 2.7 0a1.35 1.35 0 1 0 -2.7 0M511.43 221.3a1.35 1.35 0 1 0 2.7 0a1.35 1.35 0 1 0 -2.7 0M513.37 221.3a1.35 1.35 0 1 0 2.7 0a1.35 1.35 0 1 0 -2.7 0M515.31 221.3a1.35 1.35 0 1 0 2.7 0a1.35 1.35 0 1 0 -2.7 0"/>
<polyline fill="none" stroke="#ff7070" stroke-width="1" stroke-opacity="1" stroke-linejoin="round" points="324.8,225.5 326.74,231.2 328.67,281.9 330.61,310.8 332.55,253.9 334.49,267.7 336.43,286.2 338.36,251.7 340.3,254.5 342.24,227.7 344.18,206.5 346.12,208.8 348.05,202.5 349.99,200.3 351.93,216.7 353.87,221.1 355.81,215.5 357.74,222.6 359.68,228 361.62,220.8 363.56,217.2 365.5,214.4 367.43,221.5 369.37,214.4 371.31,220.2 373.25,219.9 375.19,214.4 377.12,212.1 379.06,214.4 381,213 382.94,212.5 384.88,206.2 386.81,209.9 388.75,217.2 390.69,218.6 392.63,222 394.57,224 396.5,221.1 398.44,223.6 400.38,225.5 402.32,222.4 404.26,216.4 406.19,213.6 408.13,215.7 410.07,213 412.01,210.8 413.95,214.9 415.88,219.6 417.82,217.1 419.76,219.9 421.7,222.4 423.64,223 425.57,222.2 427.51,217.7 429.45,221.8 431.39,224.9 433.33,225.5 435.26,228.3 437.2,230.2 439.14,225.5 441.08,225.8 443.02,227.1 444.95,226.9 446.89,225.2 448.83,226.5 450.77,227.9 452.71,225 454.64,226.9 456.58,229.1 458.52,226.5 460.46,223.8 462.4,220.9 464.33,220.2 466.27,217.9 468.21,220.9 470.15,219.1 472.09,220.9 474.02,218.9 475.96,221.6 477.9,221.6 479.84,220 481.78,221.6 483.71,220.5 485.65,217.6 487.59,216.9 489.53,216.7 491.47,217.2 493.4,219 495.34,219.6 497.28,220.8 499.22,220.4 501.16,218.6 503.09,221.1 505.03,222.1 506.97,221.8 508.91,220.8 510.85,219.2 512.78,218 514.72,218.6 516.66,219.2"/>
<path fill="#ff0000" d="M323.7 225.5a1.1 1.1 0 1 0 2.2 0a1.1 1.1 0 1 0 -2.2 0M325.64 231.2a1.1 1.1 0 1 0 2.2 0a1.1 1.1 0 1 0 -2.2 0M327.57 281.9a1.1 1.1 0 1 0 2.2 0a1.1 1.1 0 1 0 -2.2 0M329.51 310.8a1.1 1.1 0 1 0 2.2 0a1.1 1.1 0 1 0 -2.2 0M331.45 253.9a1.1 1.1 0 1 0 2.2 0a1.1 1.1 0 1 0 -2.2 0M333.39 267.7a1.1 1.1 0 1 0 2.2 0a1.1 1.1 0 1 0 -2.2 0M335.33 286.2a1.1 1.1 0 1 0 2.2 0a1.1 1.1 0 1 0 -2.2 0M337.26 251.7a1.1 1.1 0 1 0 2.2 0a1.1 1.1 0 1 0 -2.2 0M339.2 254.5a1.1 1.1 0 1 0 2.2 0a1.1 1.1 0 1 0 -2.2 0M341.14 227.7a1.1 1.1 0 1 0 2.2 0a1.1 1.1 0 1 0 -2.2 0M343.08 206.5a1.1 1.1 0 1 0 2.2 0a1.1 1.1 0 1 0 -2.2 0M345.02 208.8a1.1 1.1 0 1 0 2.2 0a1.1 1.1 0 1 0 -2.2 0M346.95 202.5a1.1 1.1 0 1 0 2.2 0a1.1 1.1 0 1 0 -2.2 0M348.89 200.3a1.1 1.1 0 1 0 2.2 0a1.1 1.1 0 1 0 -2.2 0M350.83 216.7a1.1 1.1 0 1 0 2.2 0a1.1 1.1 0 1 0 -2.2 0M352.77 221.1a1.1 1.1 0 1 0 2.2 0a1.1 1.1 0 1 0 -2.2 0M354.71 215.5a1.1 1.1 0 1 0 2.2 0a1.1 1.1 0 1 0 -2.2 0M356.64 222.6a1.1 1.1 0 1 0 2.2 0a1.1 1.1 0 1 0 -2.2 0M358.58 228a1.1 1.1 0 1 0 2.2 0a1.1 1.1 0 1 0 -2.2 0M360.52 220.8a1.1 1.1 0 1 0 2.2 0a1.1 1.1 0 1 0 -2.2 0M362.46 217.2a1.1 1.1 0 1 0 2.2 0a1.1 1.1 0 1 0 -2.2 0M364.4 214.4a1.1 1.1 0 1 0 2.2 0a1.1 1.1 0 1 0 -2.2 0M366.33 221.5a1.1 1.1 0 1 0 2.2 0a1.1 1.1 0 1 0 -2.2 0M368.27 214.4a1.1 1.1 0 1 0 2.2 0a1.1 1.1 0 1 0 -2.2 0M370.21 220.2a1.1 1.1 0 1 0 2.2 0a1.1 1.1 0 1 0 -2.2 0M372.15 219.9a1.1 1.1 0 1 0 2.2 0a1.1 1.1 0 1 0 -2.2 0M374.09 214.4a1.1 1.1 0 1 0 2.2 0a1.1 1.1 0 1 0 -2.2 0M376.02 212.1a1.1 1.1 0 1 0 2.2 0a1.1 1.1 0 1 0 -2.2 0M377.96 214.4a1.1 1.1 0 1 0 2.2 0a1.1 1.1 0 1 0 -2.2 0M379.9 213a1.1 1.1 0 1 0 2.2 0a1.1 1.1 0 1 0 -2.2 0M381.84 212.5a1.1 1.1 0 1 0 2.2 0a1.1 1.1 0 1 0 -2.2 0M383.78 206.2a1.1 1.1 0 1 0 2.2 0a1.1 1.1 0 1 0 -2.2 0M385.71 209.9a1.1 1.1 0 1 0 2.2 0a1.1 1.1 0 1 0 -2.2 0M387.65 217.2a1.1 1.1 0 1 0 2.2 0a1.1 1.1 0 1 0 -2.2 0M389.59 218.6a1.1 1.1 0 1 0 2.2 0a1.1 1.1 0 1 0 -2.2 0M391.53 222a1.1 1.1 0 1 0 2.2 0a1.1 1.1 0 1 0 -2.2 0M393.47 224a1.1 1.1 0 1 0 2.2 0a1.1 1.1 0 1 0 -2.2 0M395.4 221.1a1.1 1.1 0 1 0 2.2 0a1.1 1.1 0 1 0 -2.2 0M397.34 223.6a1.1 1.1 0 1 0 2.2 0a1.1 1.1 0 1 0 -2.2 0M399.28 225.5a1.1 1.1 0 1 0 2.2 0a1.1 1.1 0 1 0 -2.2 0M401.22 222.4a1.1 1.1 0 1 0 2.2 0a1.1 1.1 0 1 0 -2.2 0M403.16 216.4a1.1 1.1 0 1 0 2.2 0a1.1 1.1 0 1 0 -2.2 0M405.09 213.6a1.1 1.1 0 1 0 2.2 0a1.1 1.1 0 1 0 -2.2 0M407.03 215.7a1.1 1.1 0 1 0 2.2 0a1.1 1.1 0 1 0 -2.2 0M408.97 213a1.1 1.1 0 1 0 2.2 0a1.1 1.1 0 1 0 -2.2 0M410.91 210.8a1.1 1.1 0 1 0 2.2 0a1.1 1.1 0 1 0 -2.2 0M412.85 214.9a1.1 1.1 0 1 0 2.2 0a1.1 1.1 0 1 0 -2.2 0M414.78 219.6a1.1 1.1 0 1 0 2.2 0a1.1 1.1 0 1 0 -2.2 0M416.72 217.1a1.1 1.1 0 1 0 2.2 0a1.1 1.1 0 1 0 -2.2 0M418.66 219.9a1.1 1.1 0 1 0 2.2 0a1.1 1.1 0 1 0 -2.2 0M420.6 222.4a1.1 1.1 0 1 0 2.2 0a1.1 1.1 0 1 0 -2.2 0M422.54 223a1.1 1.1 0 1 0 2.2 0a1.1 1.1 0 1 0 -2.2 0M424.47 222.2a1.1 1.1 0 1 0 2.2 0a1.1 1.1 0 1 0 -2.2 0M426.41 217.7a1.1 1.1 0 1 0 2.2 0a1.1 1.1 0 1 0 -2.2 0M428.35 221.8a1.1 1.1 0 1 0 2.2 0a1.1 1.1 0 1 0 -2.2 0M430.29 224.9a1.1 1.1 0 1 0 2.2 0a1.1 1.1 0 1 0 -2.2 0M432.23 225.5a1.1 1.1 0 1 0 2.2 0a1.1 1.1 0 1 0 -2.2 0M434.16 228.3a1.1 1.1 0 1 0 2.2 0a1.1 1.1 0 1 0 -2.2 0M436.1 230.2a1.1 1.1 0 1 0 2.2 0a1.1 1.1 0 1 0 -2.2 0M438.04 225.5a1.1 1.1 0 1 0 2.2 0a1.1 1.1 0 1 0 -2.2 0M439.98 225.8a1.1 1.1 0 1 0 2.2 0a1.1 1.1 0 1 0 -2.2 0M441.92 227.1a1.1 1.1 0 1 0 2.2 0a1.1 1.1 0 1 0 -2.2 0M443.85 226.9a1.1 1.1 0 1 0 2.2 0a1.1 1.1 0 1 0 -2.2 0M445.79 225.2a1.1 1.1 0 1 0 2.2 0a1.1 1.1 0 1 0 -2.2 0M447.73 226.5a1.1 1.1 0 1 0 2.2 0a1.1 1.1 0 1 0 -2.2 0M449.67 227.9a1.1 1.1 0 1 0 2.2 0a1.1 1.1 0 1 0 -2.2 0M451.61 225a1.1 1.1 0 1 0 2.2 0a1.1 1.1 0 1 0 -2.2 0M453.54 226.9a1.1 1.1 0 1 0 2.2 0a1.1 1.1 0 1 0 -2.2 0M455.48 229.1a1.1 1.1 0 1 0 2.2 0a1.1 1.1 0 1 0 -2.2 0M457.42 226.5a1.1 1.1 0 1 0 2.2 0a1.1 1.1 0 1 0 -2.2 0M459.36 223.8a1.1 1.1 0 1 0 2.2 0a1.1 1.1 0 1 0 -2.2 0M461.3 220.9a1.1 1.1 0 1 0 2.2 0a1.1 1.1 0 1 0 -2.2 0M463.23 220.2a1.1 1.1 0 1 0 2.2 0a1.1 1.1 0 1 0 -2.2 0M465.17 217.9a1.1 1.1 0 1 0 2.2 0a1.1 1.1 0 1 0 -2.2 0M467.11 220.9a1.1 1.1 0 1 0 2.2 0a1.1 1.1 0 1 0 -2.2 0M469.05 219.1a1.1 1.1 0 1 0 2.2 0a1.1 1.1 0 1 0 -2.2 0M470.99 220.9a1.1 1.1 0 1 0 2.2 0a1.1 1.1 0 1 0 -2.2 0M472.92 218.9a1.1 1.1 0 1 0 2.2 0a1.1 1.1 0 1 0 -2.2 0M474.86 221.6a1.1 1.1 0 1 0 2.2 0a1.1 1.1 0 1 0 -2.2 0M476.8 221.6a1.1 1.1 0 1 0 2.2 0a1.1 1.1 0 1 0 -2.2 0M478.74 220a1.1 1.1 0 1 0 2.2 0a1.1 1.1 0 1 0 -2.2 0M480.68 221.6a1.1 1.1 0 1 0 2.2 0a1.1 1.1 0 1 0 -2.2 0M482.61 220.5a1.1 1.1 0 1 0 2.2 0a1.1 1.1 0 1 0 -2.2 0M484.55 217.6a1.1 1.1 0 1 0 2.2 0a1.1 1.1 0 1 0 -2.2 0M486.49 216.9a1.1 1.1 0 1 0 2.2 0a1.1 1.1 0 1 0 -2.2 0M488.43 216.7a1.1 1.1 0 1 0 2.2 0a1.1 1.1 0 1 0 -2.2 0M490.37 217.2a1.1 1.1 0 1 0 2.2 0a1.1 1.1 0 1 0 -2.2 0M492.3 219a1.1 1.1 0 1 0 2.2 0a1.1 1.1 0 1 0 -2.2 0M494.24 219.6a1.1 1.1 0 1 0 2.2 0a1.1 1.1 0 1 0 -2.2 0M496.18 220.8a1.1 1.1 0 1 0 2.2 0a1.1 1.1 0 1 0 -2.2 0M498.12 220.4a1.1 1.1 0 1 0 2.2 0a1.1 1.1 0 1 0 -2.2 0M500.06 218.6a1.1 1.1 0 1 0 2.2 0a1.1 1.1 0 1 0 -2.2 0M501.99 221.1a1.1 1.1 0 1 0 2.2 0a1.1 1.1 0 1 0 -2.2 0M503.93 222.1a1.1 1.1 0 1 0 2.2 0a1.1 1.1 0 1 0 -2.2 0M505.87 221.8a1.1 1.1 0 1 0 2.2 0a1.1 1.1 0 1 0 -2.2 0M507.81 220.8a1.1 1.1 0 1 0 2.2 0a1.1 1.1 0 1 0 -2.2 0M509.75 219.2a1.1 1.1 0 1 0 2.2 0a1.1 1.1 0 1 0 -2.2 0M511.68 218a1.1 1.1 0 1 0 2.2 0a1.1 1.1 0 1 0 -2.2 0M513.62 218.6a1.1 1.1 0 1 0 2.2 0a1.1 1.1 0 1 0 -2.2 0M515.56 219.2a1.1 1.1 0 1 0 2.2 0a1.1 1.1 0 1 0 -2.2 0"/>
<g stroke="#333" fill="none" stroke-width="1">
<line x1="313.5" y1="163.5" x2="313.5" y2="326.6"/>
<line x1="313" y1="326.2" x2="526.5" y2="326.2"/>
<line x1="310.5" y1="164.1" x2="313.5" y2="164.1"/>
<line x1="310.5" y1="204.62" x2="313.5" y2="204.62"/>
<line x1="310.5" y1="245.15" x2="313.5" y2="245.15"/>
<line x1="310.5" y1="285.67" x2="313.5" y2="285.67"/>
<line x1="310.5" y1="326.2" x2="313.5" y2="326.2"/>
<line x1="312" y1="184.36" x2="313.5" y2="184.36"/>
<line x1="312" y1="224.88" x2="313.5" y2="224.88"/>
<line x1="312" y1="265.41" x2="313.5" y2="265.41"/>
<line x1="312" y1="305.93" x2="313.5" y2="305.93"/>
<line x1="322.86" y1="326.2" x2="322.86" y2="329.2"/>
<line x1="342.24" y1="326.2" x2="342.24" y2="329.2"/>
<line x1="361.62" y1="326.2" x2="361.62" y2="329.2"/>
<line x1="381" y1="326.2" x2="381" y2="329.2"/>
<line x1="400.38" y1="326.2" x2="400.38" y2="329.2"/>
<line x1="419.76" y1="326.2" x2="419.76" y2="329.2"/>
<line x1="439.14" y1="326.2" x2="439.14" y2="329.2"/>
<line x1="458.52" y1="326.2" x2="458.52" y2="329.2"/>
<line x1="477.9" y1="326.2" x2="477.9" y2="329.2"/>
<line x1="497.28" y1="326.2" x2="497.28" y2="329.2"/>
<line x1="516.66" y1="326.2" x2="516.66" y2="329.2"/>
<line x1="332.55" y1="326.2" x2="332.55" y2="327.8"/>
<line x1="351.93" y1="326.2" x2="351.93" y2="327.8"/>
<line x1="371.31" y1="326.2" x2="371.31" y2="327.8"/>
<line x1="390.69" y1="326.2" x2="390.69" y2="327.8"/>
<line x1="410.07" y1="326.2" x2="410.07" y2="327.8"/>
<line x1="429.45" y1="326.2" x2="429.45" y2="327.8"/>
<line x1="448.83" y1="326.2" x2="448.83" y2="327.8"/>
<line x1="468.21" y1="326.2" x2="468.21" y2="327.8"/>
<line x1="487.59" y1="326.2" x2="487.59" y2="327.8"/>
<line x1="506.97" y1="326.2" x2="506.97" y2="327.8"/>
</g>
<g font-family="'Liberation Serif','Times New Roman',serif" font-size="7.5" fill="#444">
<text x="307.8" y="167.9" text-anchor="end">8. 4455</text>
<text x="307.8" y="208.43" text-anchor="end">8. 4450</text>
<text x="307.8" y="248.95" text-anchor="end">8. 4445</text>
<text x="307.8" y="289.47" text-anchor="end">8. 4440</text>
<text x="307.8" y="330" text-anchor="end">8. 4435</text>
<text x="322.86" y="337.9" text-anchor="middle">0</text>
<text x="342.24" y="337.9" text-anchor="middle">10</text>
<text x="361.62" y="337.9" text-anchor="middle">20</text>
<text x="381" y="337.9" text-anchor="middle">30</text>
<text x="400.38" y="337.9" text-anchor="middle">40</text>
<text x="419.76" y="337.9" text-anchor="middle">50</text>
<text x="439.14" y="337.9" text-anchor="middle">60</text>
<text x="458.52" y="337.9" text-anchor="middle">70</text>
<text x="477.9" y="337.9" text-anchor="middle">80</text>
<text x="497.28" y="337.9" text-anchor="middle">90</text>
<text x="516.66" y="337.9" text-anchor="middle">100</text>
</g>
<text x="383.2" y="352" font-family="'Liberation Serif','Times New Roman',serif" font-size="11.4" fill="#222" stroke="#222" stroke-width="0.3">Number of Data</text>
<text transform="translate(282.3,279.3) rotate(-90)" font-family="'Liberation Serif','Times New Roman',serif" font-size="10.7" fill="#222" stroke="#222" stroke-width="0.3">Frequency/GHz</text>
<rect x="476" y="159.5" width="43.5" height="22" fill="#fff" stroke="#8a8a8a" stroke-width="0.8"/>
<line x1="477" y1="165.6" x2="497.2" y2="165.6" stroke="#4040ff" stroke-width="1"/>
<circle cx="487.4" cy="165.6" r="1.3" fill="#0000ff"/>
<line x1="477" y1="175.5" x2="497.2" y2="175.5" stroke="#ff8080" stroke-width="1.2"/>
<circle cx="487.4" cy="175.5" r="1.3" fill="#ff0000"/>
<text x="499.8" y="168.8" font-family="'Liberation Serif','Times New Roman',serif" font-size="8.8" fill="#222" stroke="#222" stroke-width="0.2">IBR</text>
<text x="499.8" y="178.6" font-family="'Liberation Serif','Times New Roman',serif" font-size="8.8" fill="#222" stroke="#222" stroke-width="0.2">MLE</text>
</svg>
</body></html>
